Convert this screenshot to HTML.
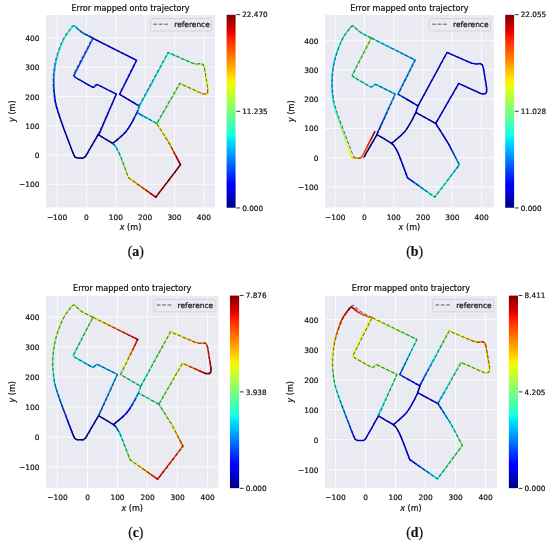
<!DOCTYPE html>
<html><head><meta charset="utf-8"><title>Error mapped onto trajectory</title>
<style>html,body{margin:0;padding:0;background:#fff}svg{display:block;filter:blur(0.35px)}</style></head>
<body>
<svg width="550" height="545" viewBox="0 0 550 545" font-family="'DejaVu Sans','Liberation Sans',sans-serif" fill="#111111" stroke-width="1.5">
<style>text{stroke:#111111;stroke-width:0.24px;stroke-opacity:0.85}</style>
<defs><linearGradient id="jetgrad" x1="0" y1="0" x2="0" y2="1"><stop offset="0%" stop-color="#800000"/><stop offset="2.5%" stop-color="#9c0000"/><stop offset="5%" stop-color="#b90000"/><stop offset="7.5%" stop-color="#d60000"/><stop offset="10%" stop-color="#f30900"/><stop offset="12.5%" stop-color="#ff2100"/><stop offset="15%" stop-color="#ff3900"/><stop offset="17.5%" stop-color="#ff5000"/><stop offset="20%" stop-color="#ff6800"/><stop offset="22.5%" stop-color="#ff8000"/><stop offset="25%" stop-color="#ff9700"/><stop offset="27.5%" stop-color="#ffaf00"/><stop offset="30%" stop-color="#ffc600"/><stop offset="32.5%" stop-color="#ffde00"/><stop offset="35%" stop-color="#f7f600"/><stop offset="37.5%" stop-color="#e2ff15"/><stop offset="40%" stop-color="#ceff29"/><stop offset="42.5%" stop-color="#b9ff3e"/><stop offset="45%" stop-color="#a5ff52"/><stop offset="47.5%" stop-color="#90ff67"/><stop offset="50%" stop-color="#7bff7b"/><stop offset="52.5%" stop-color="#67ff90"/><stop offset="55%" stop-color="#52ffa5"/><stop offset="57.5%" stop-color="#3effb9"/><stop offset="60%" stop-color="#29ffce"/><stop offset="62.5%" stop-color="#15ffe2"/><stop offset="65%" stop-color="#00e5f7"/><stop offset="67.5%" stop-color="#00ccff"/><stop offset="70%" stop-color="#00b3ff"/><stop offset="72.5%" stop-color="#0099ff"/><stop offset="75%" stop-color="#0080ff"/><stop offset="77.5%" stop-color="#0066ff"/><stop offset="80%" stop-color="#004cff"/><stop offset="82.5%" stop-color="#0033ff"/><stop offset="85%" stop-color="#001aff"/><stop offset="87.5%" stop-color="#0000ff"/><stop offset="90%" stop-color="#0000f3"/><stop offset="92.5%" stop-color="#0000d6"/><stop offset="95%" stop-color="#0000b9"/><stop offset="97.5%" stop-color="#00009c"/><stop offset="100%" stop-color="#000080"/></linearGradient></defs>
<rect width="550" height="545" fill="#fff"/>
<g id="plot-a">
<rect x="46" y="15" width="169.05" height="192.4" fill="#eaeaf2"/>
<path d="M57.1 15V207.4M86.45 15V207.4M115.8 15V207.4M145.15 15V207.4M174.5 15V207.4M203.85 15V207.4M46 184.29H215.05M46 155.05H215.05M46 125.81H215.05M46 96.57H215.05M46 67.33H215.05M46 38.09H215.05" stroke="#fff" stroke-width="0.8" fill="none"/>
<text x="57.1" y="220" text-anchor="middle" font-size="7.45">−100</text>
<text x="86.45" y="220" text-anchor="middle" font-size="7.45">0</text>
<text x="115.8" y="220" text-anchor="middle" font-size="7.45">100</text>
<text x="145.15" y="220" text-anchor="middle" font-size="7.45">200</text>
<text x="174.5" y="220" text-anchor="middle" font-size="7.45">300</text>
<text x="203.85" y="220" text-anchor="middle" font-size="7.45">400</text>
<text x="39.5" y="187.29" text-anchor="end" font-size="7.45">−100</text>
<text x="39.5" y="158.05" text-anchor="end" font-size="7.45">0</text>
<text x="39.5" y="128.81" text-anchor="end" font-size="7.45">100</text>
<text x="39.5" y="99.57" text-anchor="end" font-size="7.45">200</text>
<text x="39.5" y="70.33" text-anchor="end" font-size="7.45">300</text>
<text x="39.5" y="41.09" text-anchor="end" font-size="7.45">400</text>
<text x="130.53" y="230.1" text-anchor="middle" font-size="8.1"><tspan font-style="italic">x</tspan> (m)</text>
<text transform="translate(14.5 111.2) rotate(-90)" text-anchor="middle" font-size="8.1"><tspan font-style="italic">y</tspan> (m)</text>
<text x="130.53" y="10.5" text-anchor="middle" font-size="8.1">Error mapped onto trajectory</text>
<clipPath id="clip-a"><rect x="46" y="15" width="169.05" height="192.4"/></clipPath>
<g clip-path="url(#clip-a)" fill="none" stroke-linecap="round" stroke-linejoin="round">
<path d="M93 38.05L92.24 37.68" stroke="#0020ff"/>
<path d="M92.24 37.68L91.49 37.3" stroke="#0030ff"/>
<path d="M91.49 37.3L90.4 36.77L89.31 36.24" stroke="#0040ff"/>
<path d="M89.31 36.24L88.07 35.62L86.83 35.01" stroke="#0050ff"/>
<path d="M86.83 35.01L85.62 34.37L84.41 33.73" stroke="#0060ff"/>
<path d="M84.41 33.73L83.4 33.14L82.4 32.55" stroke="#0070ff"/>
<path d="M82.4 32.55L81.61 31.97L80.81 31.4" stroke="#0080ff"/>
<path d="M80.81 31.4L80.11 30.8L79.41 30.19" stroke="#008fff"/>
<path d="M79.41 30.19L78.79 29.6" stroke="#009fff"/>
<path d="M78.79 29.6L78.17 29.02L77.11 27.97" stroke="#00afff"/>
<path d="M77.11 27.97L76.2 27.15L75.48 26.59" stroke="#00cfff"/>
<path d="M75.48 26.59L74.96 26.23L74.59 26.02L74.32 25.88" stroke="#00dffc"/>
<path d="M74.32 25.88L74.1 25.75L73.3 26.35" stroke="#08efef"/>
<path d="M73.3 26.35L72.5 26.95L71.91 27.72L71.32 28.5L70.48 29.56L69.64 30.62L68.99 31.48L68.34 32.33L67.69 33.18L67.04 34.14L66.39 35.09L65.73 36.04L65.16 37.04L64.58 38.05L64 39.05L63.49 40.14L62.97 41.22" stroke="#15ffe2"/>
<path d="M62.97 41.22L62.46 42.31L61.95 43.51L61.45 44.72L60.94 45.92L60.46 47.19L59.99 48.46L59.51 49.73L59.08 51.01L58.64 52.3L58.21 53.58L57.84 54.84L57.47 56.09" stroke="#08efef"/>
<path d="M57.47 56.09L57.1 57.35L56.79 58.58L56.49 59.8" stroke="#00dffc"/>
<path d="M56.49 59.8L56.18 61.03L55.92 62.25L55.67 63.48" stroke="#00cfff"/>
<path d="M55.67 63.48L55.41 64.71L55.21 65.94L55 67.16" stroke="#00bfff"/>
<path d="M55 67.16L54.8 68.39L54.64 69.62" stroke="#00afff"/>
<path d="M54.64 69.62L54.49 70.85L54.33 72.07L54.22 73.3" stroke="#009fff"/>
<path d="M54.22 73.3L54.11 74.52L54 75.75" stroke="#008fff"/>
<path d="M54 75.75L53.94 76.97L53.88 78.2L53.81 79.42" stroke="#0080ff"/>
<path d="M53.81 79.42L53.8 80.64L53.79 81.86" stroke="#0070ff"/>
<path d="M53.79 81.86L53.77 83.09L53.81 84.31" stroke="#0060ff"/>
<path d="M53.81 84.31L53.84 85.53L53.88 86.75L53.95 87.97" stroke="#0050ff"/>
<path d="M53.95 87.97L54.03 89.19L54.11 90.4" stroke="#0040ff"/>
<path d="M54.11 90.4L54.22 91.61L54.33 92.82" stroke="#0030ff"/>
<path d="M54.33 92.82L54.43 94.04L54.54 95.12L54.66 96.2" stroke="#0020ff"/>
<path d="M54.66 96.2L54.77 97.28L54.95 98.71L55.13 100.14" stroke="#0010ff"/>
<path d="M55.13 100.14L55.31 101.16L55.5 102.17L55.68 103.19" stroke="#0000ff"/>
<path d="M55.68 103.19L55.99 104.45L56.31 105.71L56.62 106.97L56.99 108.25" stroke="#0000fe"/>
<path d="M56.99 108.25L57.37 109.52L57.74 110.79L58.11 112.07L58.53 113.31L58.94 114.55" stroke="#0000ec"/>
<path d="M58.94 114.55L59.35 115.79L59.76 117.03L60.17 118.27L60.58 119.51L61.05 120.85L61.53 122.19L62 123.54L62.48 124.88" stroke="#0000da"/>
<path d="M62.48 124.88L62.95 126.22L63.42 127.57L63.9 128.91L64.36 130.14L64.82 131.37L65.29 132.61L65.75 133.84L66.21 135.07L66.68 136.3L67.14 137.53L67.6 138.76" stroke="#0000c8"/>
<path d="M67.6 138.76L68.08 140.01L68.55 141.26L69.03 142.5L69.5 143.75L69.97 144.99L70.45 146.24L70.92 147.48L71.38 148.69" stroke="#0000b6"/>
<path d="M71.38 148.69L71.83 149.89L72.29 151.09L72.74 152.3L73.2 153.5L73.73 154.6L74.27 155.7" stroke="#0000a4"/>
<path d="M74.27 155.7L74.8 156.8L75.9 157.4L77 158L78.2 158.04L79.4 158.08L80.6 158.12L81.8 158.16L83 158.2L84.1 157.35L85.2 156.5" stroke="#000092"/>
<path d="M85.4 156.65L86.15 155.36L86.91 154.06L87.66 152.77" stroke="#000092"/>
<path d="M87.66 152.77L88.41 151.47L89.16 150.18L89.92 148.89L90.67 147.59L91.42 146.3L92.18 145L92.93 143.71L93.68 142.41L94.44 141.12L95.19 139.83L95.94 138.53L96.69 137.24L97.45 135.94" stroke="#0000a4"/>
<path d="M97.45 135.94L98.2 134.65" stroke="#0000b6"/>
<path d="M112.8 143.45L111.58 142.72" stroke="#0000b6"/>
<path d="M111.58 142.72L110.37 141.98L109.15 141.25L107.93 140.52L106.72 139.78L105.5 139.05L104.28 138.32L103.07 137.58L101.85 136.85L100.63 136.12L99.42 135.38L98.2 134.65" stroke="#0000a4"/>
<path d="M137 112.55L136.55 113.46" stroke="#0050ff"/>
<path d="M136.55 113.46L135.92 114.75L135.55 115.5" stroke="#0040ff"/>
<path d="M135.55 115.5L135.18 116.24L134.8 117.01L134.41 117.77L134.06 118.46" stroke="#0030ff"/>
<path d="M134.06 118.46L133.7 119.15L133.03 120.4" stroke="#0020ff"/>
<path d="M133.03 120.4L132.35 121.65L131.67 122.85" stroke="#0010ff"/>
<path d="M131.67 122.85L131.02 124L130.4 125.05L129.84 125.99" stroke="#0000ff"/>
<path d="M129.84 125.99L129.34 126.82L128.85 127.6L128.35 128.37L127.8 129.15" stroke="#0000fe"/>
<path d="M127.8 129.15L127.24 129.93L126.69 130.69L126.1 131.45L125.42 132.26" stroke="#0000ec"/>
<path d="M125.42 132.26L124.6 133.15L123.59 134.15L123.01 134.69L122.43 135.23L121.81 135.8" stroke="#0000da"/>
<path d="M121.81 135.8L121.19 136.36L120.56 136.92L119.92 137.48L119.31 138.01L118.7 138.55L118.06 139.1L117.43 139.64L116.74 140.21" stroke="#0000c8"/>
<path d="M116.74 140.21L116.06 140.78L115.4 141.32L114.74 141.87L113.6 142.79L112.8 143.45" stroke="#0000b6"/>
<path d="M157.15 123.75L155.91 123.06" stroke="#3bffbc"/>
<path d="M155.91 123.06L154.66 122.38" stroke="#2effc9"/>
<path d="M154.66 122.38L153.42 121.69" stroke="#21ffd5"/>
<path d="M153.42 121.69L152.17 121L150.93 120.31" stroke="#15ffe2"/>
<path d="M150.93 120.31L149.69 119.62" stroke="#08efef"/>
<path d="M149.69 119.62L148.44 118.94L147.2 118.25" stroke="#00dffc"/>
<path d="M147.2 118.25L145.96 117.56" stroke="#00cfff"/>
<path d="M145.96 117.56L144.71 116.88L143.47 116.19" stroke="#00bfff"/>
<path d="M143.47 116.19L142.22 115.5" stroke="#00afff"/>
<path d="M142.22 115.5L140.98 114.81L139.74 114.12" stroke="#009fff"/>
<path d="M139.74 114.12L138.49 113.44" stroke="#008fff"/>
<path d="M138.49 113.44L137.25 112.75L137.69 111.43" stroke="#0080ff"/>
<path d="M137.69 111.43L138.13 110.11" stroke="#008fff"/>
<path d="M138.13 110.11L138.57 108.79L139.01 107.47" stroke="#009fff"/>
<path d="M139.01 107.47L139.45 106.15" stroke="#00afff"/>
<path d="M92.75 38.25L94.08 38.92L95.41 39.59L96.74 40.26" stroke="#0000ec"/>
<path d="M96.74 40.26L98.07 40.93L99.4 41.6L100.73 42.27L102.06 42.94L103.39 43.61L104.72 44.28L106.05 44.95L107.38 45.62L108.71 46.29L110.04 46.96L111.37 47.63L112.7 48.3L114.03 48.97L115.37 49.63L116.7 50.3L118.03 50.97L119.36 51.64L120.69 52.31L122.02 52.98L123.35 53.65L124.68 54.32L126.01 54.99L127.34 55.66L128.67 56.33L130 57" stroke="#0000fe"/>
<path d="M130 57L131.33 57.67L132.66 58.34L133.99 59.01L135.32 59.68L136.65 60.35L136 61.66L135.34 62.97L134.69 64.28L134.03 65.6L133.38 66.91L132.73 68.22L132.07 69.53L131.42 70.84L130.77 72.15L130.11 73.47L129.46 74.78L128.8 76.09L128.15 77.4L127.5 78.71L126.84 80.02L126.19 81.33L125.53 82.65" stroke="#0000ff"/>
<path d="M125.53 82.65L124.88 83.96L124.23 85.27L123.57 86.58L122.92 87.89L122.27 89.2L121.61 90.52L120.96 91.83L120.3 93.14L119.65 94.45L120.91 95.19" stroke="#0010ff"/>
<path d="M120.91 95.19L122.17 95.94L123.43 96.68" stroke="#0000ff"/>
<path d="M123.43 96.68L124.69 97.43L125.95 98.17" stroke="#0000fe"/>
<path d="M125.95 98.17L127.21 98.92L128.47 99.66" stroke="#0000ec"/>
<path d="M128.47 99.66L129.73 100.41L130.99 101.15L132.25 101.9" stroke="#0000da"/>
<path d="M132.25 101.9L133.51 102.64" stroke="#0000c8"/>
<path d="M133.51 102.64L134.7 103.34" stroke="#0000da"/>
<path d="M134.7 103.34L135.89 104.04" stroke="#0000fe"/>
<path d="M135.89 104.04L137.07 104.75" stroke="#0010ff"/>
<path d="M137.07 104.75L138.26 105.45" stroke="#0030ff"/>
<path d="M138.26 105.45L139.45 106.15" stroke="#0050ff"/>
<path d="M98.8 134.85L99.38 133.49L99.97 132.13L100.55 130.78L101.13 129.42" stroke="#0000da"/>
<path d="M101.13 129.42L101.72 128.06L102.3 126.7L102.88 125.34L103.47 123.98L104.05 122.62L104.63 121.27L105.22 119.91L105.8 118.55L106.38 117.19" stroke="#0000ec"/>
<path d="M106.38 117.19L106.97 115.83L107.55 114.47L108.13 113.12L108.72 111.76L109.3 110.4L109.88 109.04L110.47 107.68L111.05 106.32L111.63 104.97" stroke="#0000fe"/>
<path d="M111.63 104.97L112.22 103.61L112.8 102.25L113.38 100.89L113.97 99.53L114.55 98.17L115.13 96.82L115.72 95.46L116.3 94.1L114.96 93.42L113.63 92.75L112.29 92.07L110.96 91.4" stroke="#0000ff"/>
<path d="M110.96 91.4L109.62 90.72L108.29 90.05L106.95 89.38L105.61 88.7L104.28 88.02L102.94 87.35L101.61 86.67L100.27 86L98.94 85.32L97.6 84.65L96.7 85L95.8 85.35L94.9 86.25L94 87.15L93.15 87.15L92.3 87.15L91.06 86.44L89.83 85.72L88.59 85.01L87.36 84.29L86.12 83.58L84.89 82.86" stroke="#0010ff"/>
<path d="M84.89 82.86L83.65 82.15L82.41 81.44L81.18 80.72L79.94 80.01L78.71 79.29L77.47 78.58L76.24 77.86L75 77.15L74.55 76.35" stroke="#0020ff"/>
<path d="M74.55 76.35L74.1 75.55L74.6 74.15" stroke="#0030ff"/>
<path d="M74.6 74.15L75.29 72.82L75.97 71.49L76.66 70.16L77.34 68.83L78.03 67.5L78.71 66.17L79.4 64.84L80.08 63.51L80.77 62.18L81.45 60.85" stroke="#0040ff"/>
<path d="M81.45 60.85L82.14 59.52L82.82 58.19L83.51 56.86L84.19 55.54L84.88 54.21L85.56 52.88L86.25 51.55L86.93 50.22L87.62 48.89L88.3 47.56L88.99 46.23" stroke="#0050ff"/>
<path d="M88.99 46.23L89.67 44.9L90.36 43.57L91.04 42.24L91.73 40.91L92.41 39.58L93.1 38.25" stroke="#0060ff"/>
<path d="M139.45 106.15L140.16 104.85L140.86 103.55L141.57 102.24L142.28 100.94L142.99 99.64" stroke="#00cfff"/>
<path d="M142.99 99.64L143.69 98.34L144.4 97.03L145.11 95.73L145.82 94.43L146.52 93.13L147.23 91.82L147.94 90.52L148.65 89.22L149.35 87.92L150.06 86.61L150.77 85.31L151.47 84.01L152.18 82.71" stroke="#00dffc"/>
<path d="M152.18 82.71L152.89 81.4L153.6 80.1L154.3 78.8L155.01 77.5L155.72 76.19L156.43 74.89L157.13 73.59L157.84 72.29L158.55 70.98L159.25 69.68L159.96 68.38L160.67 67.08" stroke="#08efef"/>
<path d="M160.67 67.08L161.38 65.77L162.08 64.47L162.79 63.17L163.5 61.87L164.21 60.56L164.91 59.26L165.62 57.96L166.33 56.66L167.04 55.35L167.74 54.05L168.45 52.75" stroke="#15ffe2"/>
<path d="M168.45 52.75L169.81 53.34L171.17 53.94L172.53 54.53" stroke="#21ffd5"/>
<path d="M172.53 54.53L173.89 55.13L175.26 55.72" stroke="#2effc9"/>
<path d="M175.26 55.72L176.62 56.32L177.98 56.91" stroke="#3bffbc"/>
<path d="M177.98 56.91L179.34 57.51L180.7 58.1L182.06 58.69" stroke="#48ffaf"/>
<path d="M182.06 58.69L183.42 59.29L184.78 59.88" stroke="#55ffa2"/>
<path d="M184.78 59.88L186.14 60.48L187.51 61.07" stroke="#62ff95"/>
<path d="M187.51 61.07L188.87 61.67L190.23 62.26L191.59 62.86" stroke="#6fff88"/>
<path d="M191.59 62.86L192.95 63.45L194.07 63.67" stroke="#7bff7b"/>
<path d="M194.07 63.67L195.2 63.9L196.32 64.12" stroke="#88ff6f"/>
<path d="M196.32 64.12L197.45 64.35L198.85 64.18" stroke="#95ff62"/>
<path d="M198.85 64.18L200.25 64.02" stroke="#a2ff55"/>
<path d="M200.25 64.02L201.65 63.85L202.7 64.5" stroke="#afff48"/>
<path d="M202.7 64.5L203.75 65.15L204.12 66.28" stroke="#bcff3b"/>
<path d="M204.12 66.28L204.48 67.42L204.85 68.55" stroke="#c9ff2e"/>
<path d="M204.85 68.55L205.09 69.99L205.32 71.44L205.56 72.88L205.79 74.32" stroke="#d5ff21"/>
<path d="M205.79 74.32L206.03 75.76L206.26 77.21L206.5 78.65L206.74 80.09" stroke="#e2ff15"/>
<path d="M206.74 80.09L206.97 81.54L207.21 82.98L207.44 84.42" stroke="#effe08"/>
<path d="M207.44 84.42L207.68 85.86L207.91 87.31L208.15 88.75" stroke="#fcf000"/>
<path d="M208.15 88.75L208.08 89.95" stroke="#ffe100"/>
<path d="M208.08 89.95L208.02 91.15L207.95 92.35" stroke="#ffd200"/>
<path d="M207.95 92.35L207.3 93.25" stroke="#ffc300"/>
<path d="M207.3 93.25L206.65 94.15L205.45 94.15" stroke="#ffb500"/>
<path d="M205.45 94.15L204.25 94.15L203.05 94.15L201.7 93.54" stroke="#ffc300"/>
<path d="M201.7 93.54L200.36 92.93" stroke="#ffd200"/>
<path d="M200.36 92.93L199.01 92.31L197.66 91.7" stroke="#ffe100"/>
<path d="M197.66 91.7L196.31 91.09L194.97 90.48" stroke="#fcf000"/>
<path d="M194.97 90.48L193.62 89.87L192.27 89.26" stroke="#effe08"/>
<path d="M192.27 89.26L190.93 88.64" stroke="#e2ff15"/>
<path d="M190.93 88.64L189.58 88.03L188.23 87.42" stroke="#d5ff21"/>
<path d="M188.23 87.42L186.89 86.81L185.54 86.2" stroke="#c9ff2e"/>
<path d="M185.54 86.2L184.19 85.59L182.84 84.97" stroke="#bcff3b"/>
<path d="M182.84 84.97L181.5 84.36" stroke="#afff48"/>
<path d="M181.5 84.36L180.15 83.75L179.41 85.04L178.67 86.33L177.92 87.62" stroke="#a2ff55"/>
<path d="M177.92 87.62L177.18 88.91L176.44 90.2L175.7 91.49L174.96 92.78L174.21 94.07" stroke="#95ff62"/>
<path d="M174.21 94.07L173.47 95.36L172.73 96.65L171.99 97.94L171.25 99.23L170.5 100.52" stroke="#88ff6f"/>
<path d="M170.5 100.52L169.76 101.81L169.02 103.1L168.28 104.4L167.54 105.69L166.8 106.98" stroke="#7bff7b"/>
<path d="M166.8 106.98L166.05 108.27L165.31 109.56L164.57 110.85L163.83 112.14L163.09 113.43" stroke="#6fff88"/>
<path d="M163.09 113.43L162.34 114.72L161.6 116.01L160.86 117.3L160.12 118.59L159.38 119.88" stroke="#62ff95"/>
<path d="M159.38 119.88L158.63 121.17L157.89 122.46L157.15 123.75" stroke="#55ffa2"/>
<path d="M112.8 143.45L113.17 143.79" stroke="#008fff"/>
<path d="M113.17 143.79L113.66 144.21" stroke="#009fff"/>
<path d="M113.66 144.21L114.27 144.78" stroke="#00afff"/>
<path d="M114.27 144.78L114.96 145.57" stroke="#00bfff"/>
<path d="M114.96 145.57L115.7 146.65" stroke="#00cfff"/>
<path d="M115.7 146.65L116.47 147.9" stroke="#00dffc"/>
<path d="M116.47 147.9L116.87 148.59" stroke="#08efef"/>
<path d="M116.87 148.59L117.28 149.28" stroke="#15ffe2"/>
<path d="M117.28 149.28L117.73 150.12L118.17 150.96" stroke="#21ffd5"/>
<path d="M118.17 150.96L118.69 152.03" stroke="#2effc9"/>
<path d="M118.69 152.03L119.2 153.09" stroke="#3bffbc"/>
<path d="M119.2 153.09L119.6 154.01L120 154.93" stroke="#48ffaf"/>
<path d="M120 154.93L120.4 155.85L120.92 157.16" stroke="#55ffa2"/>
<path d="M120.92 157.16L121.44 158.47" stroke="#62ff95"/>
<path d="M121.44 158.47L121.96 159.78L122.44 161.03" stroke="#6fff88"/>
<path d="M122.44 161.03L122.91 162.28" stroke="#7bff7b"/>
<path d="M122.91 162.28L123.39 163.53L123.86 164.78" stroke="#88ff6f"/>
<path d="M123.86 164.78L124.35 166.09L124.83 167.4" stroke="#95ff62"/>
<path d="M124.83 167.4L125.32 168.71L125.8 170.02" stroke="#a2ff55"/>
<path d="M125.8 170.02L126.23 171.18" stroke="#afff48"/>
<path d="M126.23 171.18L126.66 172.34L127.09 173.49" stroke="#bcff3b"/>
<path d="M127.09 173.49L127.51 174.65L127.91 175.72" stroke="#c9ff2e"/>
<path d="M127.91 175.72L128.3 176.78" stroke="#d5ff21"/>
<path d="M128.3 176.78L128.7 177.85" stroke="#e2ff15"/>
<path d="M128.7 177.85L129.88 178.69" stroke="#effe08"/>
<path d="M129.88 178.69L131.06 179.53" stroke="#fcf000"/>
<path d="M131.06 179.53L132.24 180.37L133.42 181.22" stroke="#ffe100"/>
<path d="M133.42 181.22L134.6 182.06" stroke="#ffd200"/>
<path d="M134.6 182.06L135.78 182.9" stroke="#ffc300"/>
<path d="M135.78 182.9L136.96 183.74" stroke="#ffb500"/>
<path d="M136.96 183.74L138.14 184.58" stroke="#ffa600"/>
<path d="M138.14 184.58L139.32 185.42" stroke="#ff9700"/>
<path d="M139.32 185.42L140.5 186.26" stroke="#ff8800"/>
<path d="M140.5 186.26L141.68 187.1" stroke="#ff7a00"/>
<path d="M141.68 187.1L142.87 187.95L144.05 188.79" stroke="#ff6b00"/>
<path d="M144.05 188.79L145.23 189.63" stroke="#ff5c00"/>
<path d="M145.23 189.63L146.41 190.47" stroke="#ff4d00"/>
<path d="M146.41 190.47L147.59 191.31" stroke="#ff3f00"/>
<path d="M147.59 191.31L148.77 192.15" stroke="#ff3000"/>
<path d="M148.77 192.15L149.95 192.99" stroke="#ff2100"/>
<path d="M149.95 192.99L151.13 193.83" stroke="#fe1200"/>
<path d="M151.13 193.83L152.31 194.68" stroke="#ec0400"/>
<path d="M152.31 194.68L153.49 195.52L154.67 196.36" stroke="#da0000"/>
<path d="M154.67 196.36L155.85 197.2" stroke="#c80000"/>
<path d="M155.85 197.2L156.73 196.04L157.61 194.89L158.49 193.73L159.37 192.58L160.25 191.42L161.13 190.27" stroke="#b60000"/>
<path d="M161.13 190.27L162.01 189.11L162.89 187.96L163.77 186.8L164.65 185.65L165.53 184.49L166.41 183.34L167.29 182.18L168.18 181.03L169.06 179.87" stroke="#a40000"/>
<path d="M169.06 179.87L169.94 178.71L170.82 177.56L171.7 176.4L172.58 175.25L173.46 174.09L174.34 172.94L175.22 171.78L176.1 170.63L176.98 169.47" stroke="#920000"/>
<path d="M176.98 169.47L177.86 168.32L178.74 167.16L179.62 166.01L180.5 164.85" stroke="#800000"/>
<path d="M180.5 164.85L179.82 163.54" stroke="#920000"/>
<path d="M179.82 163.54L179.15 162.24" stroke="#a40000"/>
<path d="M179.15 162.24L178.47 160.93" stroke="#b60000"/>
<path d="M178.47 160.93L177.8 159.62" stroke="#c80000"/>
<path d="M177.8 159.62L177.12 158.32" stroke="#da0000"/>
<path d="M177.12 158.32L176.45 157.01" stroke="#ec0400"/>
<path d="M176.45 157.01L175.78 155.71" stroke="#fe1200"/>
<path d="M175.78 155.71L175.1 154.4" stroke="#ff2100"/>
<path d="M175.1 154.4L174.42 153.09" stroke="#ff3f00"/>
<path d="M174.42 153.09L173.75 151.79" stroke="#ff4d00"/>
<path d="M173.75 151.79L173.07 150.48" stroke="#ff5c00"/>
<path d="M173.07 150.48L172.4 149.18" stroke="#ff6b00"/>
<path d="M172.4 149.18L171.72 147.87" stroke="#ff7a00"/>
<path d="M171.72 147.87L171.05 146.56" stroke="#ff8800"/>
<path d="M171.05 146.56L170.38 145.26" stroke="#ff9700"/>
<path d="M170.38 145.26L169.7 143.95" stroke="#ffa600"/>
<path d="M169.7 143.95L168.95 142.75" stroke="#ffb500"/>
<path d="M168.95 142.75L168.19 141.55L167.44 140.35" stroke="#ffc300"/>
<path d="M167.44 140.35L166.69 139.15L165.94 137.95L165.18 136.75" stroke="#ffd200"/>
<path d="M165.18 136.75L164.43 135.55L163.68 134.35" stroke="#ffe100"/>
<path d="M163.68 134.35L162.92 133.15L162.17 131.95" stroke="#fcf000"/>
<path d="M162.17 131.95L161.42 130.75L160.66 129.55" stroke="#effe08"/>
<path d="M160.66 129.55L159.91 128.35L159.16 127.15L158.41 125.95" stroke="#e2ff15"/>
<path d="M158.41 125.95L157.65 124.75L156.9 123.55" stroke="#d5ff21"/>
<path d="M92.3 37.9L90.79 37.15L88.61 36.09L86.13 34.86L83.71 33.58L81.7 32.4L80.11 31.25L78.71 30.04L77.47 28.87L76.41 27.82L75.5 27L74.78 26.44L74.26 26.08L73.89 25.87L73.62 25.73L73.4 25.6L71.8 26.8L70.62 28.35L68.94 30.47L66.99 33.03L65.03 35.89L63.3 38.9L61.76 42.16L60.24 45.77L58.81 49.58L57.51 53.43L56.4 57.2L55.48 60.88L54.71 64.56L54.1 68.24L53.63 71.92L53.3 75.6L53.11 79.27L53.07 82.94L53.18 86.6L53.42 90.25L53.8 93.9L54.19 97.16L54.6 100.03L55.21 103.08L56.21 106.89L57.8 112L60.4 119.47L63.88 128.91L67.6 138.76L70.92 147.48L73.2 153.5L74.8 156.8L77 158L83 158.2L85.2 156.5M85.2 156.5L98 134.5M112.6 143.3L98 134.5M136.8 112.4L136.35 113.31L135.72 114.6L134.98 116.09L134.21 117.62L133.5 119L132.83 120.25L132.15 121.5L131.47 122.7L130.82 123.85L130.2 124.9L129.64 125.84L129.14 126.67L128.65 127.45L128.15 128.22L127.6 129L127.04 129.78L126.49 130.54L125.9 131.3L125.22 132.11L124.4 133L123.39 134L122.23 135.08L120.99 136.21L119.72 137.33L118.5 138.4L117.23 139.49L115.86 140.63L114.54 141.72L113.4 142.64L112.6 143.3M156.7 123.4L136.8 112.4L139 105.8M92.3 37.9L136.2 60L119.2 94.1L133.06 102.29L139 105.8M98 134.5L116.3 94.1L96.8 84.3L95 85L93.2 86.8L91.5 86.8L74.2 76.8L73.3 75.2L73.8 73.8L92.3 37.9M139 105.8L168 52.4L192.5 63.1L197 64L201.2 63.5L203.3 64.8L204.4 68.2L207.7 88.4L207.5 92L206.2 93.8L202.6 93.8L179.7 83.4L156.7 123.4M112.6 143.3L112.97 143.64L113.46 144.06L114.07 144.63L114.76 145.42L115.5 146.5L116.27 147.75L117.08 149.13L117.97 150.81L119 152.94L120.2 155.7L121.76 159.63L123.66 164.63L125.6 169.87L127.31 174.5L128.5 177.7L155.65 197.05L180.3 164.7L169.5 143.8L156.7 123.4" stroke="#000" stroke-opacity="0.52" stroke-width="1.1" stroke-dasharray="3.75 1.62" stroke-linecap="butt"/>
</g>
<rect x="150.55" y="18.6" width="61.2" height="12.4" rx="1.7" fill="#eaeaf2" fill-opacity="0.8" stroke="#cccccc" stroke-width="0.7"/>
<path d="M153.45 24.2h14.85" stroke="#000" stroke-opacity="0.62" stroke-width="1.0" stroke-dasharray="3.75 1.62" fill="none"/>
<text x="174.25" y="26.7" font-size="7.45">reference</text>
<rect x="226.6" y="14.8" width="9" height="192.95" fill="url(#jetgrad)"/>
<path d="M236.3 14.65h3.8" stroke="#111111" stroke-width="0.85"/>
<text x="242.2" y="17.45" font-size="7.3">22.470</text>
<path d="M236.3 111.3h3.8" stroke="#111111" stroke-width="0.85"/>
<text x="242.2" y="114.1" font-size="7.3">11.235</text>
<path d="M236.3 207.95h3.8" stroke="#111111" stroke-width="0.85"/>
<text x="242.2" y="210.75" font-size="7.3">0.000</text>
<text x="135.8" y="256.4" text-anchor="middle" font-family="'Liberation Serif','DejaVu Serif',serif" font-size="13.8" fill="#111">(<tspan font-weight="bold">a</tspan>)</text>
</g>
<g id="plot-b">
<rect x="325" y="15" width="168.8" height="192.4" fill="#eaeaf2"/>
<path d="M335.16 15V207.4M364.45 15V207.4M393.74 15V207.4M423.03 15V207.4M452.32 15V207.4M481.61 15V207.4M325 186.96H493.8M325 157.7H493.8M325 128.44H493.8M325 99.18H493.8M325 69.92H493.8M325 40.66H493.8" stroke="#fff" stroke-width="0.8" fill="none"/>
<text x="335.16" y="220" text-anchor="middle" font-size="7.45">−100</text>
<text x="364.45" y="220" text-anchor="middle" font-size="7.45">0</text>
<text x="393.74" y="220" text-anchor="middle" font-size="7.45">100</text>
<text x="423.03" y="220" text-anchor="middle" font-size="7.45">200</text>
<text x="452.32" y="220" text-anchor="middle" font-size="7.45">300</text>
<text x="481.61" y="220" text-anchor="middle" font-size="7.45">400</text>
<text x="318.5" y="189.96" text-anchor="end" font-size="7.45">−100</text>
<text x="318.5" y="160.7" text-anchor="end" font-size="7.45">0</text>
<text x="318.5" y="131.44" text-anchor="end" font-size="7.45">100</text>
<text x="318.5" y="102.18" text-anchor="end" font-size="7.45">200</text>
<text x="318.5" y="72.92" text-anchor="end" font-size="7.45">300</text>
<text x="318.5" y="43.66" text-anchor="end" font-size="7.45">400</text>
<text x="409.4" y="230.1" text-anchor="middle" font-size="8.1"><tspan font-style="italic">x</tspan> (m)</text>
<text transform="translate(293.5 111.2) rotate(-90)" text-anchor="middle" font-size="8.1"><tspan font-style="italic">y</tspan> (m)</text>
<text x="409.4" y="10.5" text-anchor="middle" font-size="8.1">Error mapped onto trajectory</text>
<clipPath id="clip-b"><rect x="325" y="15" width="168.8" height="192.4"/></clipPath>
<g clip-path="url(#clip-b)" fill="none" stroke-linecap="round" stroke-linejoin="round">
<path d="M371.2 38.05L370.44 37.68" stroke="#15ffe2"/>
<path d="M370.44 37.68L369.69 37.3L368.6 36.77L367.51 36.24L366.27 35.62" stroke="#21ffd5"/>
<path d="M366.27 35.62L365.03 35.01L363.82 34.37L362.61 33.73L361.6 33.14" stroke="#2effc9"/>
<path d="M361.6 33.14L360.6 32.55L359.81 31.97L359.01 31.4L358.31 30.8" stroke="#3bffbc"/>
<path d="M358.31 30.8L357.61 30.19L356.99 29.6L356.37 29.02L355.31 27.97" stroke="#48ffaf"/>
<path d="M355.31 27.97L354.4 27.15L353.68 26.59L353.16 26.23L352.79 26.02L352.52 25.88L352.3 25.75" stroke="#55ffa2"/>
<path d="M352.3 25.75L351.5 26.35L350.7 26.95" stroke="#48ffaf"/>
<path d="M350.7 26.95L350.11 27.72L349.52 28.5L348.68 29.56L347.84 30.62" stroke="#3bffbc"/>
<path d="M347.84 30.62L347.19 31.48L346.54 32.33L345.89 33.18L345.24 34.14L344.59 35.09L343.93 36.04" stroke="#2effc9"/>
<path d="M343.93 36.04L343.36 37.04L342.78 38.05L342.2 39.05L341.69 40.14L341.17 41.22" stroke="#21ffd5"/>
<path d="M341.17 41.22L340.66 42.31L340.15 43.51L339.64 44.72L339.14 45.92L338.66 47.19" stroke="#15ffe2"/>
<path d="M338.66 47.19L338.18 48.46L337.7 49.73L337.26 51.01L336.82 52.3L336.39 53.58" stroke="#08efef"/>
<path d="M336.39 53.58L336.01 54.84L335.64 56.09L335.26 57.35L334.95 58.58L334.63 59.8L334.32 61.03" stroke="#00dffc"/>
<path d="M334.32 61.03L334.06 62.25L333.8 63.48L333.53 64.71L333.32 65.94L333.11 67.16L332.89 68.39L332.73 69.62L332.56 70.85L332.39 72.07L332.27 73.3L332.15 74.52L332.03 75.75L331.96 76.97L331.88 78.2L331.81 79.42L331.78 80.64L331.76 81.86L331.73 83.09L331.75 84.31L331.77 85.53L331.79 86.75L331.85 87.97L331.92 89.19L331.99 90.4L332.1 91.62L332.21 92.83L332.32 94.05L332.43 95.14" stroke="#00cfff"/>
<path d="M332.43 95.14L332.55 96.22L332.66 97.31L332.84 98.74" stroke="#00dffc"/>
<path d="M332.84 98.74L333.03 100.18L333.21 101.2L333.4 102.22" stroke="#08efef"/>
<path d="M333.4 102.22L333.59 103.23L333.9 104.5L334.21 105.77" stroke="#15ffe2"/>
<path d="M334.21 105.77L334.52 107.04L334.9 108.31L335.27 109.59L335.64 110.87L336.02 112.15" stroke="#21ffd5"/>
<path d="M336.02 112.15L336.42 113.39L336.83 114.64" stroke="#2effc9"/>
<path d="M336.83 114.64L337.24 115.88" stroke="#3bffbc"/>
<path d="M337.24 115.88L337.65 117.13L338.06 118.37" stroke="#48ffaf"/>
<path d="M338.06 118.37L338.46 119.62L338.93 120.97" stroke="#55ffa2"/>
<path d="M338.93 120.97L339.4 122.31L339.87 123.66" stroke="#62ff95"/>
<path d="M339.87 123.66L340.33 125.01L340.8 126.36" stroke="#6fff88"/>
<path d="M340.8 126.36L341.27 127.71L341.74 129.06L342.23 130.47" stroke="#7bff7b"/>
<path d="M342.23 130.47L342.73 131.87L343.23 133.28" stroke="#88ff6f"/>
<path d="M343.23 133.28L343.72 134.69L344.22 136.1" stroke="#95ff62"/>
<path d="M344.22 136.1L344.72 137.51L345.21 138.91" stroke="#a2ff55"/>
<path d="M345.21 138.91L345.66 140.16L346.1 141.41" stroke="#afff48"/>
<path d="M346.1 141.41L346.54 142.65L346.98 143.9" stroke="#bcff3b"/>
<path d="M346.98 143.9L347.42 145.14L347.86 146.39" stroke="#c9ff2e"/>
<path d="M347.86 146.39L348.3 147.63L348.7 149.03" stroke="#d5ff21"/>
<path d="M348.7 149.03L349.1 150.42L349.5 151.81L349.9 153.21" stroke="#e2ff15"/>
<path d="M349.9 153.21L350.3 154.6L350.85 155.8" stroke="#effe08"/>
<path d="M350.85 155.8L351.4 157" stroke="#fcf000"/>
<path d="M351.4 157L352.4 157.55" stroke="#ffe100"/>
<path d="M352.4 157.55L353.4 158.1" stroke="#ffd200"/>
<path d="M353.4 158.1L354.88 158.12" stroke="#ffc300"/>
<path d="M354.88 158.12L356.35 158.15" stroke="#ffb500"/>
<path d="M356.35 158.15L357.82 158.17" stroke="#ffa600"/>
<path d="M357.82 158.17L359.3 158.2" stroke="#ff9700"/>
<path d="M359.3 158.2L360.45 157.55" stroke="#ff8800"/>
<path d="M360.45 157.55L361.6 156.9" stroke="#ff7a00"/>
<path d="M361.6 156.9L362.17 156" stroke="#ff6b00"/>
<path d="M362.17 156L362.73 155.1L363.3 154.2" stroke="#ff5c00"/>
<path d="M363.3 154.2L363.98 152.87L364.66 151.54" stroke="#ff4d00"/>
<path d="M364.66 151.54L365.35 150.21L366.03 148.88" stroke="#ff3f00"/>
<path d="M366.03 148.88L366.71 147.55" stroke="#ff3000"/>
<path d="M366.71 147.55L367.39 146.22L368.08 144.89" stroke="#ff2100"/>
<path d="M368.08 144.89L368.76 143.56L369.44 142.24" stroke="#fe1200"/>
<path d="M369.44 142.24L370.12 140.91L370.81 139.58" stroke="#ec0400"/>
<path d="M370.81 139.58L371.49 138.25" stroke="#da0000"/>
<path d="M371.49 138.25L372.17 136.92L372.85 135.59" stroke="#c80000"/>
<path d="M372.85 135.59L373.54 134.26L374.22 132.93" stroke="#b60000"/>
<path d="M374.22 132.93L374.9 131.6" stroke="#a40000"/>
<path d="M364.2 156.55L364.95 155.26L365.71 153.96L366.46 152.67L367.21 151.37L367.96 150.08L368.72 148.79L369.47 147.49L370.22 146.2L370.98 144.9L371.73 143.61L372.48 142.31" stroke="#000092"/>
<path d="M372.48 142.31L373.24 141.02L373.99 139.73L374.74 138.43L375.49 137.14L376.25 135.84L377 134.55" stroke="#0000a4"/>
<path d="M391.6 143.35L390.38 142.62L389.17 141.88L387.95 141.15L386.73 140.42L385.52 139.68L384.3 138.95L383.08 138.22L381.87 137.48L380.65 136.75L379.43 136.02L378.22 135.28L377 134.55" stroke="#0000b6"/>
<path d="M415.8 112.45L415.35 113.36L414.72 114.65L414.35 115.4L413.98 116.14L413.6 116.91L413.21 117.67L412.86 118.36L412.5 119.05L411.83 120.3L411.15 121.55L410.47 122.75L409.82 123.9L409.2 124.95L408.64 125.89L408.14 126.72L407.65 127.5L407.15 128.27L406.6 129.05L406.04 129.83L405.49 130.59L404.9 131.35L404.22 132.16L403.4 133.05L402.39 134.05L401.81 134.59L401.23 135.13L400.61 135.7L399.99 136.26L399.36 136.82L398.72 137.38L398.11 137.91L397.5 138.45L396.86 139L396.23 139.54L395.54 140.11L394.86 140.68L394.2 141.22L393.54 141.77L392.4 142.69L391.6 143.35" stroke="#0000c8"/>
<path d="M435.7 123.45L434.46 122.76L433.21 122.08L431.97 121.39L430.73 120.7L429.48 120.01L428.24 119.33L426.99 118.64L425.75 117.95L424.51 117.26L423.26 116.58L422.02 115.89L420.77 115.2L419.53 114.51L418.29 113.83L417.04 113.14" stroke="#0000da"/>
<path d="M417.04 113.14L415.8 112.45" stroke="#0000c8"/>
<path d="M415.8 112.45L416.24 111.13L416.68 109.81L417.12 108.49L417.56 107.17L418 105.85" stroke="#0000da"/>
<path d="M371.05 37.85L372.38 38.52L373.71 39.19L375.04 39.86L376.37 40.53" stroke="#15ffe2"/>
<path d="M376.37 40.53L377.7 41.2L379.03 41.87L380.36 42.54L381.69 43.21L383.02 43.88" stroke="#08efef"/>
<path d="M383.02 43.88L384.35 44.55L385.68 45.22L387.01 45.89L388.34 46.56L389.67 47.23L391 47.9" stroke="#00dffc"/>
<path d="M391 47.9L392.33 48.57L393.67 49.23L395 49.9L396.33 50.57L397.66 51.24" stroke="#00cfff"/>
<path d="M397.66 51.24L398.99 51.91L400.32 52.58L401.65 53.25L402.98 53.92L404.31 54.59" stroke="#00bfff"/>
<path d="M404.31 54.59L405.64 55.26L406.97 55.93L408.3 56.6L409.63 57.27L410.96 57.94" stroke="#00afff"/>
<path d="M410.96 57.94L412.29 58.61L413.62 59.28L414.95 59.95L414.3 61.26L413.64 62.57L412.99 63.88L412.33 65.2" stroke="#009fff"/>
<path d="M412.33 65.2L411.68 66.51L411.03 67.82L410.37 69.13L409.72 70.44L409.07 71.75L408.41 73.07L407.76 74.38L407.1 75.69L406.45 77L405.8 78.31" stroke="#008fff"/>
<path d="M405.8 78.31L405.14 79.62L404.49 80.93L403.83 82.25L403.18 83.56L402.53 84.87L401.87 86.18L401.22 87.49L400.57 88.8L399.91 90.12L399.26 91.43L398.6 92.74" stroke="#0080ff"/>
<path d="M398.6 92.74L397.95 94.05L399.21 94.79" stroke="#0070ff"/>
<path d="M399.21 94.79L400.47 95.54L401.73 96.28" stroke="#0060ff"/>
<path d="M401.73 96.28L402.99 97.03" stroke="#0050ff"/>
<path d="M402.99 97.03L404.25 97.77L405.51 98.52" stroke="#0040ff"/>
<path d="M405.51 98.52L406.77 99.26" stroke="#0030ff"/>
<path d="M406.77 99.26L408.03 100.01" stroke="#0020ff"/>
<path d="M408.03 100.01L409.29 100.75L410.55 101.5" stroke="#0010ff"/>
<path d="M410.55 101.5L411.81 102.24L413 102.94" stroke="#0000ff"/>
<path d="M413 102.94L414.19 103.64L415.37 104.35L416.56 105.05L417.75 105.75" stroke="#0000fe"/>
<path d="M376.75 134.45L377.36 133.1L377.97 131.76" stroke="#0010ff"/>
<path d="M377.97 131.76L378.58 130.41L379.19 129.06L379.8 127.72" stroke="#0020ff"/>
<path d="M379.8 127.72L380.41 126.37L381.02 125.02" stroke="#0030ff"/>
<path d="M381.02 125.02L381.63 123.68L382.24 122.33L382.85 120.98" stroke="#0040ff"/>
<path d="M382.85 120.98L383.46 119.64L384.07 118.29L384.68 116.94" stroke="#0050ff"/>
<path d="M384.68 116.94L385.29 115.6L385.9 114.25L386.51 112.9" stroke="#0060ff"/>
<path d="M386.51 112.9L387.12 111.56L387.73 110.21L388.34 108.86" stroke="#0070ff"/>
<path d="M388.34 108.86L388.95 107.52L389.56 106.17L390.17 104.82" stroke="#0080ff"/>
<path d="M390.17 104.82L390.78 103.48L391.39 102.13L392 100.78" stroke="#008fff"/>
<path d="M392 100.78L392.61 99.44L393.22 98.09L393.83 96.74" stroke="#009fff"/>
<path d="M393.83 96.74L394.44 95.4L395.05 94.05L393.75 93.4L392.45 92.74" stroke="#00afff"/>
<path d="M392.45 92.74L391.15 92.09L389.85 91.44L388.55 90.78L387.25 90.13L385.95 89.48L384.65 88.82L383.35 88.17L382.05 87.52" stroke="#00bfff"/>
<path d="M382.05 87.52L380.75 86.86L379.45 86.21L378.15 85.56L376.85 84.9L375.55 84.25L374.65 84.6" stroke="#00cfff"/>
<path d="M374.65 84.6L373.75 84.95L372.85 85.85" stroke="#00dffc"/>
<path d="M372.85 85.85L371.95 86.75L371.1 86.75" stroke="#08efef"/>
<path d="M371.1 86.75L370.25 86.75L369.01 86.04L367.78 85.32L366.54 84.61L365.31 83.89" stroke="#15ffe2"/>
<path d="M365.31 83.89L364.07 83.18L362.84 82.46L361.6 81.75L360.36 81.04" stroke="#21ffd5"/>
<path d="M360.36 81.04L359.13 80.32L357.89 79.61L356.66 78.89L355.42 78.18" stroke="#2effc9"/>
<path d="M355.42 78.18L354.19 77.46L352.95 76.75L352.5 75.95" stroke="#3bffbc"/>
<path d="M352.5 75.95L352.05 75.15" stroke="#48ffaf"/>
<path d="M352.05 75.15L352.55 73.75" stroke="#55ffa2"/>
<path d="M352.55 73.75L353.24 72.42L353.92 71.09L354.61 69.76L355.29 68.43" stroke="#62ff95"/>
<path d="M355.29 68.43L355.98 67.1L356.66 65.77L357.35 64.44L358.03 63.11L358.72 61.78" stroke="#6fff88"/>
<path d="M358.72 61.78L359.4 60.45L360.09 59.12L360.77 57.79L361.46 56.46" stroke="#7bff7b"/>
<path d="M361.46 56.46L362.14 55.14L362.83 53.81L363.51 52.48L364.2 51.15" stroke="#88ff6f"/>
<path d="M364.2 51.15L364.88 49.82L365.57 48.49L366.25 47.16L366.94 45.83" stroke="#95ff62"/>
<path d="M366.94 45.83L367.62 44.5L368.31 43.17L368.99 41.84L369.68 40.51L370.36 39.18" stroke="#a2ff55"/>
<path d="M370.36 39.18L371.05 37.85" stroke="#afff48"/>
<path d="M418 105.85L418.71 104.55L419.41 103.25L420.12 101.94L420.83 100.64L421.54 99.34L422.24 98.04L422.95 96.73L423.66 95.43L424.37 94.13L425.07 92.83L425.78 91.52L426.49 90.22L427.2 88.92L427.9 87.62L428.61 86.31" stroke="#0000fe"/>
<path d="M428.61 86.31L429.32 85.01L430.02 83.71L430.73 82.41L431.44 81.1L432.15 79.8L432.85 78.5L433.56 77.2L434.27 75.89L434.98 74.59L435.68 73.29L436.39 71.99L437.1 70.68L437.8 69.38L438.51 68.08L439.22 66.78L439.93 65.47L440.63 64.17L441.34 62.87L442.05 61.57L442.76 60.26L443.46 58.96L444.17 57.66L444.88 56.36L445.59 55.05L446.29 53.75L447 52.45L448.36 53.04L449.72 53.64L451.08 54.23L452.44 54.83L453.81 55.42L455.17 56.02L456.53 56.61L457.89 57.21L459.25 57.8L460.61 58.39L461.97 58.99L463.33 59.58L464.69 60.18L466.06 60.77L467.42 61.37L468.78 61.96L470.14 62.56L471.5 63.15L472.62 63.38L473.75 63.6L474.88 63.82L476 64.05L477.4 63.88L478.8 63.72L480.2 63.55L481.25 64.2L482.3 64.85L482.67 65.98L483.03 67.12L483.4 68.25L483.64 69.69L483.87 71.14L484.11 72.58L484.34 74.02L484.58 75.46L484.81 76.91L485.05 78.35L485.29 79.79L485.52 81.24L485.76 82.68L485.99 84.12L486.23 85.56L486.46 87.01L486.7 88.45L486.63 89.65L486.57 90.85L486.5 92.05L485.85 92.95L485.2 93.85L484 93.85L482.8 93.85L481.6 93.85L480.25 93.24L478.91 92.63L477.56 92.01L476.21 91.4L474.86 90.79L473.52 90.18L472.17 89.57L470.82 88.96L469.48 88.34L468.13 87.73L466.78 87.12L465.44 86.51L464.09 85.9L462.74 85.29L461.39 84.67L460.05 84.06L458.7 83.45L457.96 84.74L457.22 86.03L456.47 87.32L455.73 88.61" stroke="#0000ff"/>
<path d="M455.73 88.61L454.99 89.9L454.25 91.19L453.51 92.48L452.76 93.77L452.02 95.06L451.28 96.35L450.54 97.64L449.8 98.93L449.05 100.22L448.31 101.51L447.57 102.8L446.83 104.1L446.09 105.39L445.35 106.68L444.6 107.97L443.86 109.26L443.12 110.55L442.38 111.84L441.64 113.13L440.89 114.42L440.15 115.71L439.41 117L438.67 118.29L437.93 119.58L437.18 120.87" stroke="#0000fe"/>
<path d="M437.18 120.87L436.44 122.16L435.7 123.45" stroke="#0000ec"/>
<path d="M391.6 143.35L391.97 143.69L392.46 144.11L393.07 144.68L393.76 145.47L394.5 146.55L395.27 147.8L395.67 148.49L396.08 149.18L396.53 150.02" stroke="#0000c8"/>
<path d="M396.53 150.02L396.97 150.86L397.49 151.93L398 152.99L398.4 153.91L398.8 154.83L399.2 155.75L399.72 157.06L400.24 158.37" stroke="#0000da"/>
<path d="M400.24 158.37L400.76 159.68L401.24 160.93L401.71 162.18L402.19 163.43L402.66 164.68L403.15 165.99" stroke="#0000ec"/>
<path d="M403.15 165.99L403.63 167.3L404.12 168.61L404.6 169.92L405.03 171.08L405.46 172.24L405.89 173.39" stroke="#0000fe"/>
<path d="M405.89 173.39L406.31 174.55L406.71 175.62L407.1 176.68L407.5 177.75" stroke="#0000ff"/>
<path d="M407.5 177.75L408.68 178.59" stroke="#0010ff"/>
<path d="M408.68 178.59L409.86 179.43L411.04 180.27" stroke="#0020ff"/>
<path d="M411.04 180.27L412.22 181.12" stroke="#0030ff"/>
<path d="M412.22 181.12L413.4 181.96" stroke="#0040ff"/>
<path d="M413.4 181.96L414.58 182.8" stroke="#0050ff"/>
<path d="M414.58 182.8L415.76 183.64L416.94 184.48" stroke="#0060ff"/>
<path d="M416.94 184.48L418.12 185.32" stroke="#0070ff"/>
<path d="M418.12 185.32L419.3 186.16" stroke="#0080ff"/>
<path d="M419.3 186.16L420.48 187" stroke="#008fff"/>
<path d="M420.48 187L421.67 187.85L422.85 188.69" stroke="#009fff"/>
<path d="M422.85 188.69L424.03 189.53" stroke="#00afff"/>
<path d="M424.03 189.53L425.21 190.37" stroke="#00bfff"/>
<path d="M425.21 190.37L426.39 191.21" stroke="#00cfff"/>
<path d="M426.39 191.21L427.57 192.05L428.75 192.89" stroke="#00dffc"/>
<path d="M428.75 192.89L429.93 193.73" stroke="#08efef"/>
<path d="M429.93 193.73L431.11 194.58" stroke="#15ffe2"/>
<path d="M431.11 194.58L432.29 195.42" stroke="#21ffd5"/>
<path d="M432.29 195.42L433.47 196.26L434.65 197.1" stroke="#2effc9"/>
<path d="M434.65 197.1L435.53 195.94L436.41 194.79" stroke="#3bffbc"/>
<path d="M436.41 194.79L437.29 193.63L438.17 192.48L439.05 191.32L439.93 190.17" stroke="#2effc9"/>
<path d="M439.93 190.17L440.81 189.01L441.69 187.86L442.57 186.7L443.45 185.55" stroke="#21ffd5"/>
<path d="M443.45 185.55L444.33 184.39L445.21 183.24L446.09 182.08L446.98 180.93L447.86 179.77" stroke="#15ffe2"/>
<path d="M447.86 179.77L448.74 178.61L449.62 177.46L450.5 176.3L451.38 175.15" stroke="#08efef"/>
<path d="M451.38 175.15L452.26 173.99L453.14 172.84L454.02 171.68L454.9 170.53L455.78 169.37" stroke="#00dffc"/>
<path d="M455.78 169.37L456.66 168.22L457.54 167.06L458.42 165.91L459.3 164.75" stroke="#00cfff"/>
<path d="M459.3 164.75L458.62 163.44" stroke="#00bfff"/>
<path d="M458.62 163.44L457.95 162.14L457.28 160.83" stroke="#00afff"/>
<path d="M457.28 160.83L456.6 159.53" stroke="#009fff"/>
<path d="M456.6 159.53L455.93 158.22L455.25 156.91" stroke="#008fff"/>
<path d="M455.25 156.91L454.57 155.61" stroke="#0080ff"/>
<path d="M454.57 155.61L453.9 154.3" stroke="#0070ff"/>
<path d="M453.9 154.3L453.23 152.99L452.55 151.69" stroke="#0060ff"/>
<path d="M452.55 151.69L451.88 150.38" stroke="#0050ff"/>
<path d="M451.88 150.38L451.2 149.08" stroke="#0040ff"/>
<path d="M451.2 149.08L450.52 147.77L449.85 146.46" stroke="#0030ff"/>
<path d="M449.85 146.46L449.18 145.16" stroke="#0020ff"/>
<path d="M449.18 145.16L448.5 143.85L447.75 142.65L446.99 141.45" stroke="#0010ff"/>
<path d="M446.99 141.45L446.24 140.25L445.49 139.05L444.74 137.85L443.98 136.65" stroke="#0000ff"/>
<path d="M443.98 136.65L443.23 135.45L442.48 134.25L441.72 133.05L440.97 131.85L440.22 130.65" stroke="#0000fe"/>
<path d="M440.22 130.65L439.46 129.45L438.71 128.25L437.96 127.05L437.21 125.85" stroke="#0000ec"/>
<path d="M437.21 125.85L436.45 124.65L435.7 123.45" stroke="#0000da"/>
<path d="M371.5 38.05L369.99 37.3L367.81 36.24L365.33 35.01L362.91 33.73L360.9 32.55L359.31 31.4L357.91 30.19L356.67 29.02L355.61 27.97L354.7 27.15L353.98 26.59L353.46 26.23L353.09 26.02L352.82 25.88L352.6 25.75L351 26.95L349.82 28.5L348.14 30.62L346.19 33.18L344.23 36.04L342.5 39.05L340.96 42.31L339.44 45.92L338.01 49.73L336.71 53.58L335.6 57.35L334.68 61.03L333.91 64.71L333.3 68.39L332.83 72.07L332.5 75.75L332.31 79.42L332.27 83.09L332.38 86.75L332.62 90.4L333 94.05L333.39 97.31L333.8 100.18L334.41 103.23L335.41 107.04L337 112.15L339.6 119.62L343.08 129.06L346.8 138.91L350.12 147.63L352.4 153.65L354 156.95L356.2 158.15L362.2 158.35L364.4 156.65M364.4 156.65L377.2 134.65M391.8 143.45L377.2 134.65M416 112.55L415.55 113.46L414.92 114.75L414.18 116.24L413.41 117.77L412.7 119.15L412.03 120.4L411.35 121.65L410.67 122.85L410.02 124L409.4 125.05L408.84 125.99L408.34 126.82L407.85 127.6L407.35 128.37L406.8 129.15L406.24 129.93L405.69 130.69L405.1 131.45L404.42 132.26L403.6 133.15L402.59 134.15L401.43 135.23L400.19 136.36L398.92 137.48L397.7 138.55L396.43 139.64L395.06 140.78L393.74 141.87L392.6 142.79L391.8 143.45M435.9 123.55L416 112.55L418.2 105.95M371.5 38.05L415.4 60.15L398.4 94.25L412.26 102.44L418.2 105.95M377.2 134.65L395.5 94.25L376 84.45L374.2 85.15L372.4 86.95L370.7 86.95L353.4 76.95L352.5 75.35L353 73.95L371.5 38.05M418.2 105.95L447.2 52.55L471.7 63.25L476.2 64.15L480.4 63.65L482.5 64.95L483.6 68.35L486.9 88.55L486.7 92.15L485.4 93.95L481.8 93.95L458.9 83.55L435.9 123.55M391.8 143.45L392.17 143.79L392.66 144.21L393.27 144.78L393.96 145.57L394.7 146.65L395.47 147.9L396.28 149.28L397.17 150.96L398.2 153.09L399.4 155.85L400.96 159.78L402.86 164.78L404.8 170.02L406.51 174.65L407.7 177.85L434.85 197.2L459.5 164.85L448.7 143.95L435.9 123.55" stroke="#000" stroke-opacity="0.52" stroke-width="1.1" stroke-dasharray="3.75 1.62" stroke-linecap="butt"/>
</g>
<rect x="429.3" y="18.6" width="61.2" height="12.4" rx="1.7" fill="#eaeaf2" fill-opacity="0.8" stroke="#cccccc" stroke-width="0.7"/>
<path d="M432.2 24.2h14.85" stroke="#000" stroke-opacity="0.62" stroke-width="1.0" stroke-dasharray="3.75 1.62" fill="none"/>
<text x="453" y="26.7" font-size="7.45">reference</text>
<rect x="505.2" y="14.8" width="8.9" height="192.95" fill="url(#jetgrad)"/>
<path d="M514.8 14.65h3.8" stroke="#111111" stroke-width="0.85"/>
<text x="520.7" y="17.45" font-size="7.3">22.055</text>
<path d="M514.8 111.3h3.8" stroke="#111111" stroke-width="0.85"/>
<text x="520.7" y="114.1" font-size="7.3">11.028</text>
<path d="M514.8 207.95h3.8" stroke="#111111" stroke-width="0.85"/>
<text x="520.7" y="210.75" font-size="7.3">0.000</text>
<text x="414.7" y="256.4" text-anchor="middle" font-family="'Liberation Serif','DejaVu Serif',serif" font-size="13.8" fill="#111">(<tspan font-weight="bold">b</tspan>)</text>
</g>
<g id="plot-c">
<rect x="46.05" y="295.8" width="172.35" height="192" fill="#eaeaf2"/>
<path d="M57.48 295.8V487.8M87.5 295.8V487.8M117.52 295.8V487.8M147.54 295.8V487.8M177.56 295.8V487.8M207.58 295.8V487.8M46.05 467.02H218.4M46.05 437H218.4M46.05 406.98H218.4M46.05 376.96H218.4M46.05 346.94H218.4M46.05 316.92H218.4" stroke="#fff" stroke-width="0.8" fill="none"/>
<text x="57.48" y="500.4" text-anchor="middle" font-size="7.45">−100</text>
<text x="87.5" y="500.4" text-anchor="middle" font-size="7.45">0</text>
<text x="117.52" y="500.4" text-anchor="middle" font-size="7.45">100</text>
<text x="147.54" y="500.4" text-anchor="middle" font-size="7.45">200</text>
<text x="177.56" y="500.4" text-anchor="middle" font-size="7.45">300</text>
<text x="207.58" y="500.4" text-anchor="middle" font-size="7.45">400</text>
<text x="39.55" y="470.02" text-anchor="end" font-size="7.45">−100</text>
<text x="39.55" y="440" text-anchor="end" font-size="7.45">0</text>
<text x="39.55" y="409.98" text-anchor="end" font-size="7.45">100</text>
<text x="39.55" y="379.96" text-anchor="end" font-size="7.45">200</text>
<text x="39.55" y="349.94" text-anchor="end" font-size="7.45">300</text>
<text x="39.55" y="319.92" text-anchor="end" font-size="7.45">400</text>
<text x="132.22" y="510.5" text-anchor="middle" font-size="8.1"><tspan font-style="italic">x</tspan> (m)</text>
<text transform="translate(14.55 391.8) rotate(-90)" text-anchor="middle" font-size="8.1"><tspan font-style="italic">y</tspan> (m)</text>
<text x="132.22" y="291.3" text-anchor="middle" font-size="8.1">Error mapped onto trajectory</text>
<clipPath id="clip-c"><rect x="46.05" y="295.8" width="172.35" height="192"/></clipPath>
<g clip-path="url(#clip-c)" fill="none" stroke-linecap="round" stroke-linejoin="round">
<path d="M92.73 317.07L91.96 316.69L91.18 316.31L90.07 315.78L88.96 315.24L87.69 314.62" stroke="#c9ff2e"/>
<path d="M87.69 314.62L86.42 313.99L85.17 313.35L83.93 312.7L82.9 312.1L81.88 311.51" stroke="#bcff3b"/>
<path d="M81.88 311.51L81.06 310.92L80.25 310.34L79.53 309.73L78.81 309.11L78.18 308.52L77.55 307.92L77 307.39L76.46 306.86" stroke="#afff48"/>
<path d="M76.46 306.86L75.53 306.02L74.79 305.46L74.26 305.1L73.88 304.88L73.6 304.73L73.38 304.61L72.56 305.22" stroke="#a2ff55"/>
<path d="M72.56 305.22L71.74 305.84L71.13 306.63L70.53 307.42L69.66 308.51L68.8 309.6L68.14 310.47L67.47 311.34L66.81 312.22L66.14 313.19L65.47 314.17L64.8 315.14L64.21 316.17L63.62 317.19L63.03 318.22L62.5 319.33L61.97 320.44L61.44 321.55L60.93 322.78L60.41 324.01L59.89 325.24L59.4 326.54L58.91 327.83L58.42 329.13L57.98 330.45L57.54 331.76" stroke="#afff48"/>
<path d="M57.54 331.76L57.09 333.07L56.71 334.36L56.33 335.64L55.95 336.92L55.64 338.17L55.32 339.42L55.01 340.68" stroke="#a2ff55"/>
<path d="M55.01 340.68L54.75 341.93L54.48 343.18L54.22 344.44L54.01 345.69L53.8 346.94" stroke="#95ff62"/>
<path d="M53.8 346.94L53.59 348.2L53.43 349.45L53.27 350.7L53.11 351.96L53 353.21" stroke="#88ff6f"/>
<path d="M53 353.21L52.88 354.46L52.77 355.71L52.71 356.96" stroke="#7bff7b"/>
<path d="M52.71 356.96L52.64 358.2L52.58 359.45L52.56 360.7" stroke="#6fff88"/>
<path d="M52.56 360.7L52.55 361.95L52.54 363.19L52.57 364.44" stroke="#62ff95"/>
<path d="M52.57 364.44L52.6 365.69L52.64 366.93L52.72 368.17" stroke="#55ffa2"/>
<path d="M52.72 368.17L52.8 369.42L52.89 370.66L53.02 371.9" stroke="#48ffaf"/>
<path d="M53.02 371.9L53.15 373.14L53.28 374.38L53.41 375.48" stroke="#3bffbc"/>
<path d="M53.41 375.48L53.54 376.59" stroke="#2effc9"/>
<path d="M53.54 376.59L53.68 377.7L53.89 379.16" stroke="#21ffd5"/>
<path d="M53.89 379.16L54.1 380.63" stroke="#15ffe2"/>
<path d="M54.1 380.63L54.3 381.67" stroke="#08efef"/>
<path d="M54.3 381.67L54.51 382.7L54.72 383.74" stroke="#00dffc"/>
<path d="M54.72 383.74L55.06 385.03L55.4 386.32" stroke="#00cfff"/>
<path d="M55.4 386.32L55.75 387.61" stroke="#00bfff"/>
<path d="M55.75 387.61L56.15 388.92L56.56 390.22L56.96 391.52" stroke="#00afff"/>
<path d="M56.96 391.52L57.37 392.83L57.81 394.09" stroke="#009fff"/>
<path d="M57.81 394.09L58.25 395.36L58.7 396.63" stroke="#008fff"/>
<path d="M58.7 396.63L59.14 397.9L59.58 399.16" stroke="#0080ff"/>
<path d="M59.58 399.16L60.03 400.43L60.53 401.81L61.04 403.18" stroke="#0070ff"/>
<path d="M61.04 403.18L61.55 404.55L62.06 405.93" stroke="#0060ff"/>
<path d="M62.06 405.93L62.57 407.3L63.08 408.67" stroke="#0050ff"/>
<path d="M63.08 408.67L63.59 410.05L64.07 411.3L64.54 412.56" stroke="#0040ff"/>
<path d="M64.54 412.56L65.02 413.81L65.49 415.07L65.97 416.32" stroke="#0030ff"/>
<path d="M65.97 416.32L66.45 417.58L66.92 418.83L67.4 420.09" stroke="#0020ff"/>
<path d="M67.4 420.09L67.89 421.36L68.37 422.63" stroke="#0010ff"/>
<path d="M68.37 422.63L68.86 423.89L69.34 425.16L69.83 426.43" stroke="#0000ff"/>
<path d="M69.83 426.43L70.31 427.7L70.8 428.97" stroke="#0000fe"/>
<path d="M70.8 428.97L71.27 430.19L71.73 431.42" stroke="#0000ec"/>
<path d="M71.73 431.42L72.2 432.65L72.66 433.87" stroke="#0000da"/>
<path d="M72.66 433.87L73.13 435.1L73.68 436.22" stroke="#0000c8"/>
<path d="M73.68 436.22L74.22 437.34L74.77 438.46" stroke="#0000b6"/>
<path d="M74.77 438.46L75.89 439.06L77.02 439.67L78.25 439.71L79.48 439.74L80.71 439.78L81.94 439.81L83.17 439.85L84.29 438.98L85.42 438.1" stroke="#0000a4"/>
<path d="M85.42 438.1L86.15 436.85L86.88 435.6L87.61 434.35L88.34 433.1L89.06 431.85L89.79 430.6L90.52 429.35L91.25 428.1" stroke="#0000a4"/>
<path d="M91.25 428.1L91.98 426.85L92.71 425.6L93.44 424.35L94.17 423.1L94.9 421.85L95.62 420.6L96.35 419.35L97.08 418.1L97.81 416.85L98.54 415.6" stroke="#0000b6"/>
<path d="M113.49 424.52L112.25 423.77L111 423.03L109.75 422.29L108.51 421.54L107.26 420.8L106.02 420.06L104.77 419.32L103.52 418.57L102.28 417.83L101.03 417.09L99.79 416.34L98.54 415.6" stroke="#0000a4"/>
<path d="M138.29 392.88L137.83 393.81" stroke="#00bfff"/>
<path d="M137.83 393.81L137.18 395.13L136.8 395.89" stroke="#00afff"/>
<path d="M136.8 395.89L136.42 396.66L136.03 397.44L135.64 398.22" stroke="#009fff"/>
<path d="M135.64 398.22L135.27 398.92L134.91 399.63" stroke="#008fff"/>
<path d="M134.91 399.63L134.22 400.91" stroke="#0080ff"/>
<path d="M134.22 400.91L133.52 402.18L132.83 403.42" stroke="#0070ff"/>
<path d="M132.83 403.42L132.16 404.59" stroke="#0060ff"/>
<path d="M132.16 404.59L131.53 405.66" stroke="#0050ff"/>
<path d="M131.53 405.66L130.96 406.62L130.44 407.48" stroke="#0040ff"/>
<path d="M130.44 407.48L129.94 408.28L129.42 409.06" stroke="#0030ff"/>
<path d="M129.42 409.06L128.86 409.86" stroke="#0020ff"/>
<path d="M128.86 409.86L128.29 410.66L127.73 411.43" stroke="#0010ff"/>
<path d="M127.73 411.43L127.12 412.22" stroke="#0000ff"/>
<path d="M127.12 412.22L126.43 413.04L125.58 413.95" stroke="#0000fe"/>
<path d="M125.58 413.95L124.55 414.98L123.96 415.53L123.36 416.09L122.73 416.67" stroke="#0000ec"/>
<path d="M122.73 416.67L122.09 417.24L121.44 417.82L120.79 418.39L120.16 418.94L119.54 419.49" stroke="#0000da"/>
<path d="M119.54 419.49L118.88 420.05L118.23 420.61L117.53 421.19L116.83 421.78L116.15 422.33" stroke="#0000c8"/>
<path d="M116.15 422.33L115.48 422.89L114.31 423.84L113.49 424.52" stroke="#0000b6"/>
<path d="M158.67 404.02L157.4 403.32L156.13 402.62" stroke="#55ffa2"/>
<path d="M156.13 402.62L154.85 401.93L153.58 401.23L152.3 400.54L151.03 399.84L149.76 399.14L148.48 398.45L147.21 397.75L145.93 397.06L144.66 396.36" stroke="#48ffaf"/>
<path d="M144.66 396.36L143.39 395.66L142.11 394.97L140.84 394.27L139.57 393.58L138.29 392.88L138.74 391.53" stroke="#3bffbc"/>
<path d="M138.74 391.53L139.19 390.18L139.65 388.84L140.1 387.49L140.55 386.14" stroke="#2effc9"/>
<path d="M92.73 317.07L94.06 317.73" stroke="#e2ff15"/>
<path d="M94.06 317.73L95.38 318.39L96.7 319.04" stroke="#effe08"/>
<path d="M96.7 319.04L98.02 319.7L99.34 320.36" stroke="#fcf000"/>
<path d="M99.34 320.36L100.67 321.01L101.99 321.67" stroke="#ffe100"/>
<path d="M101.99 321.67L103.31 322.33L104.63 322.99" stroke="#ffd200"/>
<path d="M104.63 322.99L105.96 323.64" stroke="#ffc300"/>
<path d="M105.96 323.64L107.28 324.3L108.6 324.96" stroke="#ffb500"/>
<path d="M108.6 324.96L109.92 325.62L111.25 326.27" stroke="#ffa600"/>
<path d="M111.25 326.27L112.57 326.93L113.89 327.59" stroke="#ff9700"/>
<path d="M113.89 327.59L115.21 328.25" stroke="#ff8800"/>
<path d="M115.21 328.25L116.54 328.9L117.86 329.56" stroke="#ff7a00"/>
<path d="M117.86 329.56L119.18 330.22L120.5 330.88" stroke="#ff6b00"/>
<path d="M120.5 330.88L121.83 331.53L123.15 332.19" stroke="#ff5c00"/>
<path d="M123.15 332.19L124.47 332.85" stroke="#ff4d00"/>
<path d="M124.47 332.85L125.79 333.51L127.12 334.16" stroke="#ff3f00"/>
<path d="M127.12 334.16L128.44 334.82L129.76 335.48" stroke="#ff3000"/>
<path d="M129.76 335.48L131.08 336.14L132.4 336.79" stroke="#ff2100"/>
<path d="M132.4 336.79L133.73 337.45L135.05 338.11" stroke="#fe1200"/>
<path d="M135.05 338.11L136.37 338.77" stroke="#ec0400"/>
<path d="M136.37 338.77L137.69 339.42" stroke="#da0000"/>
<path d="M137.69 339.42L137.02 340.76" stroke="#ec0400"/>
<path d="M137.02 340.76L136.35 342.1" stroke="#fe1200"/>
<path d="M136.35 342.1L135.68 343.45" stroke="#ff2100"/>
<path d="M135.68 343.45L135.01 344.79" stroke="#ff3000"/>
<path d="M135.01 344.79L134.34 346.13" stroke="#ff3f00"/>
<path d="M134.34 346.13L133.67 347.47" stroke="#ff4d00"/>
<path d="M133.67 347.47L133 348.81" stroke="#ff5c00"/>
<path d="M133 348.81L132.33 350.15" stroke="#ff6b00"/>
<path d="M132.33 350.15L131.66 351.49" stroke="#ff7a00"/>
<path d="M131.66 351.49L130.99 352.83" stroke="#ff8800"/>
<path d="M130.99 352.83L130.32 354.17" stroke="#ff9700"/>
<path d="M130.32 354.17L129.65 355.51" stroke="#ffa600"/>
<path d="M129.65 355.51L128.98 356.86" stroke="#ffb500"/>
<path d="M128.98 356.86L128.31 358.2" stroke="#ffc300"/>
<path d="M128.31 358.2L127.64 359.54" stroke="#ffd200"/>
<path d="M127.64 359.54L126.97 360.88" stroke="#ffe100"/>
<path d="M126.97 360.88L126.3 362.22" stroke="#fcf000"/>
<path d="M126.3 362.22L125.63 363.56" stroke="#effe08"/>
<path d="M125.63 363.56L124.96 364.9" stroke="#e2ff15"/>
<path d="M124.96 364.9L124.29 366.24" stroke="#d5ff21"/>
<path d="M124.29 366.24L123.62 367.58" stroke="#c9ff2e"/>
<path d="M123.62 367.58L122.95 368.93" stroke="#bcff3b"/>
<path d="M122.95 368.93L122.28 370.27" stroke="#afff48"/>
<path d="M122.28 370.27L121.61 371.61" stroke="#a2ff55"/>
<path d="M121.61 371.61L120.94 372.95" stroke="#95ff62"/>
<path d="M120.94 372.95L120.27 374.29" stroke="#88ff6f"/>
<path d="M120.27 374.29L121.56 375.04" stroke="#7bff7b"/>
<path d="M121.56 375.04L122.85 375.8L124.14 376.55L125.43 377.31" stroke="#6fff88"/>
<path d="M125.43 377.31L126.72 378.06L128.01 378.81L129.3 379.57" stroke="#62ff95"/>
<path d="M129.3 379.57L130.59 380.32L131.88 381.08L133.17 381.83" stroke="#55ffa2"/>
<path d="M133.17 381.83L134.46 382.58L135.68 383.29L136.9 384.01L138.11 384.72" stroke="#48ffaf"/>
<path d="M138.11 384.72L139.33 385.43L140.55 386.14" stroke="#3bffbc"/>
<path d="M98.54 415.6L99.14 414.27L99.75 412.94L100.36 411.61" stroke="#0060ff"/>
<path d="M100.36 411.61L100.96 410.27L101.57 408.94L102.17 407.61L102.78 406.28L103.38 404.94L103.99 403.61" stroke="#0070ff"/>
<path d="M103.99 403.61L104.59 402.28L105.2 400.95L105.8 399.62L106.41 398.28L107.01 396.95L107.62 395.62" stroke="#0080ff"/>
<path d="M107.62 395.62L108.22 394.29L108.83 392.95L109.43 391.62L110.04 390.29L110.64 388.96L111.25 387.62" stroke="#008fff"/>
<path d="M111.25 387.62L111.85 386.29L112.46 384.96L113.06 383.63L113.67 382.3L114.27 380.96L114.88 379.63" stroke="#009fff"/>
<path d="M114.88 379.63L115.48 378.3L116.09 376.97L116.69 375.63L117.3 374.3L115.97 373.64L114.64 372.98L113.3 372.32L111.97 371.66L110.64 371L109.31 370.34L107.98 369.68L106.65 369.02L105.32 368.36L103.98 367.69L102.65 367.03L101.32 366.37L99.99 365.71L98.66 365.05L97.33 364.39L96.41 364.75L95.48 365.11L94.56 366.03L93.64 366.96L92.77 366.96L91.9 366.96L90.63 366.24" stroke="#00afff"/>
<path d="M90.63 366.24L89.37 365.52L88.1 364.8L86.83 364.07" stroke="#00bfff"/>
<path d="M86.83 364.07L85.57 363.35L84.3 362.63" stroke="#00cfff"/>
<path d="M84.3 362.63L83.04 361.9L81.77 361.18L80.51 360.46" stroke="#00dffc"/>
<path d="M80.51 360.46L79.24 359.73L77.98 359.01L76.71 358.29" stroke="#08efef"/>
<path d="M76.71 358.29L75.44 357.56L74.18 356.84L73.72 356.03L73.26 355.21" stroke="#15ffe2"/>
<path d="M73.26 355.21L73.51 354.5L73.77 353.78" stroke="#21ffd5"/>
<path d="M73.77 353.78L74.45 352.47L75.12 351.16L75.8 349.85" stroke="#2effc9"/>
<path d="M75.8 349.85L76.48 348.54L77.16 347.22L77.83 345.91L78.51 344.6" stroke="#3bffbc"/>
<path d="M78.51 344.6L79.19 343.29L79.87 341.98L80.54 340.67L81.22 339.36" stroke="#48ffaf"/>
<path d="M81.22 339.36L81.9 338.05L82.57 336.74L83.25 335.43" stroke="#55ffa2"/>
<path d="M83.25 335.43L83.93 334.11L84.61 332.8L85.28 331.49L85.96 330.18" stroke="#62ff95"/>
<path d="M85.96 330.18L86.64 328.87L87.31 327.56L87.99 326.25L88.67 324.94" stroke="#6fff88"/>
<path d="M88.67 324.94L89.35 323.63L90.02 322.31L90.7 321" stroke="#7bff7b"/>
<path d="M90.7 321L91.38 319.69L92.06 318.38L92.73 317.07" stroke="#88ff6f"/>
<path d="M140.55 386.14L141.26 384.84" stroke="#08efef"/>
<path d="M141.26 384.84L141.96 383.54L142.67 382.24L143.38 380.94" stroke="#15ffe2"/>
<path d="M143.38 380.94L144.09 379.64L144.79 378.34L145.5 377.04" stroke="#21ffd5"/>
<path d="M145.5 377.04L146.21 375.74L146.92 374.44" stroke="#2effc9"/>
<path d="M146.92 374.44L147.62 373.14L148.33 371.83L149.04 370.53" stroke="#3bffbc"/>
<path d="M149.04 370.53L149.75 369.23L150.46 367.93L151.16 366.63" stroke="#48ffaf"/>
<path d="M151.16 366.63L151.87 365.33L152.58 364.03L153.29 362.73" stroke="#55ffa2"/>
<path d="M153.29 362.73L153.99 361.43L154.7 360.13" stroke="#62ff95"/>
<path d="M154.7 360.13L155.41 358.83L156.12 357.53L156.82 356.23" stroke="#6fff88"/>
<path d="M156.82 356.23L157.53 354.93L158.24 353.63L158.95 352.33" stroke="#7bff7b"/>
<path d="M158.95 352.33L159.66 351.03L160.36 349.73L161.07 348.43" stroke="#88ff6f"/>
<path d="M161.07 348.43L161.78 347.13L162.49 345.83" stroke="#95ff62"/>
<path d="M162.49 345.83L163.19 344.53L163.9 343.23L164.61 341.93" stroke="#a2ff55"/>
<path d="M164.61 341.93L165.32 340.63L166.03 339.33L166.73 338.03" stroke="#afff48"/>
<path d="M166.73 338.03L167.44 336.73L168.15 335.43L168.86 334.13" stroke="#bcff3b"/>
<path d="M168.86 334.13L169.56 332.83L170.27 331.53" stroke="#c9ff2e"/>
<path d="M170.27 331.53L171.59 332.1L172.91 332.66L174.23 333.23" stroke="#d5ff21"/>
<path d="M174.23 333.23L175.55 333.8L176.87 334.37" stroke="#e2ff15"/>
<path d="M176.87 334.37L178.2 334.94L179.52 335.51" stroke="#effe08"/>
<path d="M179.52 335.51L180.84 336.08L182.16 336.65" stroke="#fcf000"/>
<path d="M182.16 336.65L183.48 337.21L184.8 337.78L186.12 338.35" stroke="#ffe100"/>
<path d="M186.12 338.35L187.44 338.92L188.76 339.49" stroke="#ffd200"/>
<path d="M188.76 339.49L190.08 340.06L191.4 340.63" stroke="#ffc300"/>
<path d="M191.4 340.63L192.72 341.2L194.04 341.77" stroke="#ffb500"/>
<path d="M194.04 341.77L195.36 342.33L196.52 342.56L197.67 342.78" stroke="#ffa600"/>
<path d="M197.67 342.78L198.82 343.01L199.97 343.23" stroke="#ff9700"/>
<path d="M199.97 343.23L201.41 343.06" stroke="#ff8800"/>
<path d="M201.41 343.06L202.84 342.88L204.28 342.7" stroke="#ff7a00"/>
<path d="M204.28 342.7L205.35 343.36" stroke="#ff6b00"/>
<path d="M205.35 343.36L206.43 344.02L206.8 345.18" stroke="#ff5c00"/>
<path d="M206.8 345.18L207.18 346.33L207.55 347.48" stroke="#ff4d00"/>
<path d="M207.55 347.48L207.79 348.96L208.03 350.43" stroke="#ff3f00"/>
<path d="M208.03 350.43L208.28 351.9L208.52 353.37" stroke="#ff3000"/>
<path d="M208.52 353.37L208.76 354.84L209 356.31L209.24 357.78" stroke="#ff2100"/>
<path d="M209.24 357.78L209.48 359.25L209.72 360.72" stroke="#fe1200"/>
<path d="M209.72 360.72L209.96 362.19L210.2 363.67L210.44 365.14" stroke="#ec0400"/>
<path d="M210.44 365.14L210.69 366.61L210.93 368.08" stroke="#da0000"/>
<path d="M210.93 368.08L210.86 369.3" stroke="#c80000"/>
<path d="M210.86 369.3L210.79 370.53" stroke="#b60000"/>
<path d="M210.79 370.53L210.72 371.75" stroke="#a40000"/>
<path d="M210.72 371.75L210.05 372.67" stroke="#920000"/>
<path d="M210.05 372.67L209.39 373.6L208.16 373.6" stroke="#800000"/>
<path d="M208.16 373.6L206.93 373.61L205.7 373.61" stroke="#920000"/>
<path d="M205.7 373.61L204.4 373.03" stroke="#a40000"/>
<path d="M204.4 373.03L203.09 372.44" stroke="#b60000"/>
<path d="M203.09 372.44L201.79 371.86" stroke="#c80000"/>
<path d="M201.79 371.86L200.49 371.28" stroke="#ec0400"/>
<path d="M200.49 371.28L199.19 370.69" stroke="#fe1200"/>
<path d="M199.19 370.69L197.88 370.11" stroke="#ff2100"/>
<path d="M197.88 370.11L196.58 369.52" stroke="#ff3000"/>
<path d="M196.58 369.52L195.28 368.94" stroke="#ff3f00"/>
<path d="M195.28 368.94L193.97 368.36" stroke="#ff5c00"/>
<path d="M193.97 368.36L192.67 367.77" stroke="#ff6b00"/>
<path d="M192.67 367.77L191.37 367.19" stroke="#ff7a00"/>
<path d="M191.37 367.19L190.06 366.61" stroke="#ff8800"/>
<path d="M190.06 366.61L188.76 366.02" stroke="#ff9700"/>
<path d="M188.76 366.02L187.46 365.44" stroke="#ffb500"/>
<path d="M187.46 365.44L186.15 364.85" stroke="#ffc300"/>
<path d="M186.15 364.85L184.85 364.27" stroke="#ffd200"/>
<path d="M184.85 364.27L183.55 363.69" stroke="#ffe100"/>
<path d="M183.55 363.69L182.25 363.1" stroke="#fcf000"/>
<path d="M182.25 363.1L181.51 364.38" stroke="#effe08"/>
<path d="M181.51 364.38L180.77 365.66L180.04 366.94L179.3 368.22L178.56 369.5" stroke="#e2ff15"/>
<path d="M178.56 369.5L177.83 370.77L177.09 372.05L176.35 373.33" stroke="#d5ff21"/>
<path d="M176.35 373.33L175.62 374.61L174.88 375.89L174.14 377.17" stroke="#c9ff2e"/>
<path d="M174.14 377.17L173.41 378.44L172.67 379.72L171.93 381" stroke="#bcff3b"/>
<path d="M171.93 381L171.2 382.28L170.46 383.56L169.72 384.84" stroke="#afff48"/>
<path d="M169.72 384.84L168.99 386.12L168.25 387.39L167.51 388.67" stroke="#a2ff55"/>
<path d="M167.51 388.67L166.78 389.95L166.04 391.23L165.3 392.51" stroke="#95ff62"/>
<path d="M165.3 392.51L164.57 393.79L163.83 395.07L163.09 396.34" stroke="#88ff6f"/>
<path d="M163.09 396.34L162.36 397.62L161.62 398.9L160.88 400.18L160.15 401.46" stroke="#7bff7b"/>
<path d="M160.15 401.46L159.41 402.74L158.67 404.02" stroke="#6fff88"/>
<path d="M113.49 424.52L113.87 424.86" stroke="#0000fe"/>
<path d="M113.87 424.86L114.38 425.29" stroke="#0010ff"/>
<path d="M114.38 425.29L115 425.87" stroke="#0020ff"/>
<path d="M115 425.87L115.7 426.67" stroke="#0040ff"/>
<path d="M115.7 426.67L116.46 427.77" stroke="#0050ff"/>
<path d="M116.46 427.77L117.25 429.04" stroke="#0070ff"/>
<path d="M117.25 429.04L117.66 429.74" stroke="#008fff"/>
<path d="M117.66 429.74L118.08 430.45" stroke="#009fff"/>
<path d="M118.08 430.45L118.54 431.3" stroke="#00afff"/>
<path d="M118.54 431.3L119 432.15" stroke="#00bfff"/>
<path d="M119 432.15L119.52 433.24" stroke="#00cfff"/>
<path d="M119.52 433.24L120.05 434.33" stroke="#00dffc"/>
<path d="M120.05 434.33L120.45 435.26L120.86 436.2" stroke="#08efef"/>
<path d="M120.86 436.2L121.27 437.13" stroke="#15ffe2"/>
<path d="M121.27 437.13L121.81 438.47L122.34 439.8" stroke="#21ffd5"/>
<path d="M122.34 439.8L122.87 441.14" stroke="#2effc9"/>
<path d="M122.87 441.14L123.36 442.41L123.84 443.69" stroke="#3bffbc"/>
<path d="M123.84 443.69L124.33 444.96L124.81 446.23" stroke="#48ffaf"/>
<path d="M124.81 446.23L125.31 447.57L125.81 448.9" stroke="#55ffa2"/>
<path d="M125.81 448.9L126.31 450.23" stroke="#62ff95"/>
<path d="M126.31 450.23L126.8 451.57L127.24 452.75" stroke="#6fff88"/>
<path d="M127.24 452.75L127.68 453.93L128.12 455.11" stroke="#7bff7b"/>
<path d="M128.12 455.11L128.55 456.29L128.96 457.37" stroke="#88ff6f"/>
<path d="M128.96 457.37L129.36 458.46" stroke="#95ff62"/>
<path d="M129.36 458.46L129.77 459.54" stroke="#a2ff55"/>
<path d="M129.77 459.54L130.98 460.39" stroke="#afff48"/>
<path d="M130.98 460.39L132.19 461.25" stroke="#bcff3b"/>
<path d="M132.19 461.25L133.39 462.1" stroke="#c9ff2e"/>
<path d="M133.39 462.1L134.6 462.95" stroke="#d5ff21"/>
<path d="M134.6 462.95L135.81 463.81" stroke="#e2ff15"/>
<path d="M135.81 463.81L137.02 464.66" stroke="#effe08"/>
<path d="M137.02 464.66L138.23 465.51" stroke="#fcf000"/>
<path d="M138.23 465.51L139.44 466.37L140.65 467.22" stroke="#ffe100"/>
<path d="M140.65 467.22L141.86 468.07" stroke="#ffd200"/>
<path d="M141.86 468.07L143.07 468.93" stroke="#ffc300"/>
<path d="M143.07 468.93L144.27 469.78" stroke="#ffb500"/>
<path d="M144.27 469.78L145.48 470.63" stroke="#ffa600"/>
<path d="M145.48 470.63L146.69 471.48" stroke="#ff9700"/>
<path d="M146.69 471.48L147.9 472.34" stroke="#ff8800"/>
<path d="M147.9 472.34L149.11 473.19" stroke="#ff7a00"/>
<path d="M149.11 473.19L150.32 474.04" stroke="#ff6b00"/>
<path d="M150.32 474.04L151.53 474.9" stroke="#ff5c00"/>
<path d="M151.53 474.9L152.74 475.75" stroke="#ff4d00"/>
<path d="M152.74 475.75L153.95 476.6" stroke="#ff3f00"/>
<path d="M153.95 476.6L155.16 477.46" stroke="#ff3000"/>
<path d="M155.16 477.46L156.36 478.31" stroke="#ff2100"/>
<path d="M156.36 478.31L157.57 479.16" stroke="#fe1200"/>
<path d="M157.57 479.16L158.48 477.98" stroke="#ec0400"/>
<path d="M158.48 477.98L159.38 476.8L160.28 475.61L161.18 474.43L162.08 473.25L162.99 472.07" stroke="#fe1200"/>
<path d="M162.99 472.07L163.89 470.88L164.79 469.7L165.69 468.52L166.59 467.34L167.5 466.15" stroke="#ff2100"/>
<path d="M167.5 466.15L168.4 464.97L169.3 463.79L170.2 462.6L171.11 461.42L172.01 460.24L172.91 459.06" stroke="#ff3000"/>
<path d="M172.91 459.06L173.81 457.87L174.71 456.69L175.62 455.51L176.52 454.33L177.42 453.14" stroke="#ff3f00"/>
<path d="M177.42 453.14L178.32 451.96L179.23 450.78L180.13 449.6L181.03 448.41L181.93 447.23L182.83 446.05" stroke="#ff4d00"/>
<path d="M182.83 446.05L182.14 444.72" stroke="#ff5c00"/>
<path d="M182.14 444.72L181.45 443.39" stroke="#ff6b00"/>
<path d="M181.45 443.39L180.76 442.06L180.07 440.73" stroke="#ff7a00"/>
<path d="M180.07 440.73L179.38 439.4" stroke="#ff8800"/>
<path d="M179.38 439.4L178.69 438.07" stroke="#ff9700"/>
<path d="M178.69 438.07L178 436.74" stroke="#ffa600"/>
<path d="M178 436.74L177.31 435.41L176.61 434.08" stroke="#ffb500"/>
<path d="M176.61 434.08L175.92 432.75" stroke="#ffc300"/>
<path d="M175.92 432.75L175.23 431.42" stroke="#ffd200"/>
<path d="M175.23 431.42L174.54 430.09" stroke="#ffe100"/>
<path d="M174.54 430.09L173.85 428.76L173.16 427.43" stroke="#fcf000"/>
<path d="M173.16 427.43L172.47 426.1" stroke="#effe08"/>
<path d="M172.47 426.1L171.78 424.77" stroke="#e2ff15"/>
<path d="M171.78 424.77L171.01 423.55L170.24 422.33" stroke="#d5ff21"/>
<path d="M170.24 422.33L169.47 421.11" stroke="#c9ff2e"/>
<path d="M169.47 421.11L168.69 419.89L167.92 418.67" stroke="#bcff3b"/>
<path d="M167.92 418.67L167.15 417.45L166.38 416.23" stroke="#afff48"/>
<path d="M166.38 416.23L165.61 415" stroke="#a2ff55"/>
<path d="M165.61 415L164.84 413.78L164.07 412.56" stroke="#95ff62"/>
<path d="M164.07 412.56L163.3 411.34" stroke="#88ff6f"/>
<path d="M163.3 411.34L162.53 410.12L161.76 408.9" stroke="#7bff7b"/>
<path d="M161.76 408.9L160.99 407.68" stroke="#6fff88"/>
<path d="M160.99 407.68L160.21 406.46L159.44 405.24" stroke="#62ff95"/>
<path d="M159.44 405.24L158.67 404.02" stroke="#55ffa2"/>
<path d="M93.04 317.32L91.49 316.57L89.26 315.5L86.72 314.25L84.24 312.96L82.18 311.76L80.56 310.59L79.12 309.37L77.86 308.17L76.76 307.11L75.83 306.28L75.1 305.71L74.57 305.35L74.19 305.13L73.91 304.99L73.68 304.86L72.04 306.09L70.83 307.67L69.11 309.85L67.12 312.47L65.11 315.39L63.33 318.47L61.75 321.81L60.2 325.5L58.73 329.39L57.4 333.33L56.26 337.18L55.32 340.93L54.53 344.69L53.9 348.45L53.42 352.21L53.08 355.96L52.89 359.71L52.84 363.45L52.95 367.18L53.19 370.91L53.58 374.63L53.99 377.95L54.4 380.88L55.03 384L56.05 387.87L57.68 393.08L60.33 400.69L63.9 410.3L67.71 420.34L71.11 429.22L73.44 435.35L75.07 438.71L77.33 439.93L83.47 440.1L85.73 438.36M85.73 438.36L98.85 415.86M113.8 424.77L98.85 415.86M138.6 393.14L138.14 394.06L137.49 395.38L136.73 396.91L135.95 398.47L135.22 399.88L134.53 401.17L133.83 402.44L133.14 403.67L132.46 404.84L131.83 405.92L131.27 406.88L130.75 407.73L130.25 408.53L129.73 409.31L129.17 410.11L128.6 410.91L128.03 411.69L127.43 412.47L126.73 413.3L125.89 414.21L124.86 415.23L123.67 416.34L122.4 417.5L121.1 418.65L119.84 419.74L118.54 420.86L117.14 422.03L115.78 423.15L114.62 424.09L113.8 424.77M158.98 404.27L138.6 393.14L140.85 386.39M93.04 317.32L138 339.68L120.58 374.54L134.77 382.84L140.85 386.39M98.85 415.86L117.61 374.56L97.63 364.64L95.79 365.37L93.95 367.21L92.2 367.22L74.49 357.09L73.57 355.46L74.08 354.03L93.04 317.32M140.85 386.39L170.58 331.78L195.67 342.59L200.28 343.49L204.58 342.96L206.73 344.27L207.86 347.74L211.23 368.33L211.03 372.01L209.7 373.85L206.01 373.86L182.55 363.36L158.98 404.27M113.8 424.77L114.17 425.11L114.69 425.54L115.31 426.12L116.01 426.93L116.77 428.02L117.55 429.29L118.38 430.7L119.3 432.41L120.35 434.58L121.58 437.39L123.18 441.39L125.12 446.49L127.11 451.82L128.86 456.54L130.08 459.8L157.88 479.42L183.14 446.3L172.08 425.03L158.98 404.27" stroke="#000" stroke-opacity="0.52" stroke-width="1.1" stroke-dasharray="3.75 1.62" stroke-linecap="butt"/>
</g>
<rect x="153.9" y="299.4" width="61.2" height="12.4" rx="1.7" fill="#eaeaf2" fill-opacity="0.8" stroke="#cccccc" stroke-width="0.7"/>
<path d="M156.8 305h14.85" stroke="#000" stroke-opacity="0.62" stroke-width="1.0" stroke-dasharray="3.75 1.62" fill="none"/>
<text x="177.6" y="307.5" font-size="7.45">reference</text>
<rect x="229.95" y="295.6" width="9.2" height="192.55" fill="url(#jetgrad)"/>
<path d="M239.85 295.45h3.8" stroke="#111111" stroke-width="0.85"/>
<text x="245.75" y="298.25" font-size="7.3">7.876</text>
<path d="M239.85 391.9h3.8" stroke="#111111" stroke-width="0.85"/>
<text x="245.75" y="394.7" font-size="7.3">3.938</text>
<path d="M239.85 488.35h3.8" stroke="#111111" stroke-width="0.85"/>
<text x="245.75" y="491.15" font-size="7.3">0.000</text>
<text x="135.8" y="537.4" text-anchor="middle" font-family="'Liberation Serif','DejaVu Serif',serif" font-size="13.8" fill="#111">(<tspan font-weight="bold">c</tspan>)</text>
</g>
<g id="plot-d">
<rect x="324.9" y="295.8" width="172.1" height="192" fill="#eaeaf2"/>
<path d="M335.48 295.8V487.8M365.5 295.8V487.8M395.52 295.8V487.8M425.54 295.8V487.8M455.56 295.8V487.8M485.58 295.8V487.8M324.9 469.72H497M324.9 439.7H497M324.9 409.68H497M324.9 379.66H497M324.9 349.64H497M324.9 319.62H497" stroke="#fff" stroke-width="0.8" fill="none"/>
<text x="335.48" y="500.4" text-anchor="middle" font-size="7.45">−100</text>
<text x="365.5" y="500.4" text-anchor="middle" font-size="7.45">0</text>
<text x="395.52" y="500.4" text-anchor="middle" font-size="7.45">100</text>
<text x="425.54" y="500.4" text-anchor="middle" font-size="7.45">200</text>
<text x="455.56" y="500.4" text-anchor="middle" font-size="7.45">300</text>
<text x="485.58" y="500.4" text-anchor="middle" font-size="7.45">400</text>
<text x="318.4" y="472.72" text-anchor="end" font-size="7.45">−100</text>
<text x="318.4" y="442.7" text-anchor="end" font-size="7.45">0</text>
<text x="318.4" y="412.68" text-anchor="end" font-size="7.45">100</text>
<text x="318.4" y="382.66" text-anchor="end" font-size="7.45">200</text>
<text x="318.4" y="352.64" text-anchor="end" font-size="7.45">300</text>
<text x="318.4" y="322.62" text-anchor="end" font-size="7.45">400</text>
<text x="410.95" y="510.5" text-anchor="middle" font-size="8.1"><tspan font-style="italic">x</tspan> (m)</text>
<text transform="translate(293.4 391.8) rotate(-90)" text-anchor="middle" font-size="8.1"><tspan font-style="italic">y</tspan> (m)</text>
<text x="410.95" y="291.3" text-anchor="middle" font-size="8.1">Error mapped onto trajectory</text>
<clipPath id="clip-d"><rect x="324.9" y="295.8" width="172.1" height="192"/></clipPath>
<g clip-path="url(#clip-d)" fill="none" stroke-linecap="round" stroke-linejoin="round">
<path d="M371.41 318.31L370.64 317.94" stroke="#ff8800"/>
<path d="M370.64 317.94L369.87 317.57L368.73 317.08" stroke="#ff7a00"/>
<path d="M368.73 317.08L367.58 316.6L366.24 316.06" stroke="#ff6b00"/>
<path d="M366.24 316.06L364.9 315.53L363.59 314.97" stroke="#ff5c00"/>
<path d="M363.59 314.97L362.28 314.41" stroke="#ff4d00"/>
<path d="M362.28 314.41L361.2 313.88L360.11 313.35" stroke="#ff3f00"/>
<path d="M360.11 313.35L359.26 312.82L358.4 312.3" stroke="#ff3000"/>
<path d="M358.4 312.3L357.64 311.73" stroke="#ff2100"/>
<path d="M357.64 311.73L356.88 311.17L356.21 310.61" stroke="#fe1200"/>
<path d="M356.21 310.61L355.55 310.06" stroke="#ec0400"/>
<path d="M355.55 310.06L354.97 309.57L354.39 309.07" stroke="#da0000"/>
<path d="M354.39 309.07L353.41 308.3" stroke="#c80000"/>
<path d="M353.41 308.3L352.64 307.79L352.08 307.46L351.68 307.26" stroke="#b60000"/>
<path d="M351.68 307.26L351.4 307.12L351.18 306.99L350.37 307.62" stroke="#a40000"/>
<path d="M350.37 307.62L349.56 308.25L348.97 309.05" stroke="#b60000"/>
<path d="M348.97 309.05L348.37 309.84" stroke="#c80000"/>
<path d="M348.37 309.84L347.53 310.94L346.68 312.04" stroke="#da0000"/>
<path d="M346.68 312.04L346.03 312.92L345.37 313.81L344.72 314.69" stroke="#ec0400"/>
<path d="M344.72 314.69L344.09 315.64L343.47 316.6" stroke="#fe1200"/>
<path d="M343.47 316.6L342.84 317.56L342.35 318.5L341.87 319.44" stroke="#ff2100"/>
<path d="M341.87 319.44L341.39 320.38L340.98 321.39" stroke="#ff3000"/>
<path d="M340.98 321.39L340.57 322.41L340.16 323.43" stroke="#ff3f00"/>
<path d="M340.16 323.43L339.75 324.58" stroke="#ff4d00"/>
<path d="M339.75 324.58L339.33 325.72L338.92 326.87" stroke="#ff5c00"/>
<path d="M338.92 326.87L338.44 328.17L337.97 329.48" stroke="#ff6b00"/>
<path d="M337.97 329.48L337.49 330.78" stroke="#ff7a00"/>
<path d="M337.49 330.78L337.06 332.1L336.63 333.42" stroke="#ff8800"/>
<path d="M336.63 333.42L336.2 334.74L335.83 336.03" stroke="#ff9700"/>
<path d="M335.83 336.03L335.46 337.32" stroke="#ffa600"/>
<path d="M335.46 337.32L335.09 338.61L334.79 339.86" stroke="#ffb500"/>
<path d="M334.79 339.86L334.48 341.12L334.18 342.37L333.94 343.62" stroke="#ffc300"/>
<path d="M333.94 343.62L333.71 344.86L333.47 346.11" stroke="#ffd200"/>
<path d="M333.47 346.11L333.29 347.35L333.11 348.58" stroke="#ffe100"/>
<path d="M333.11 348.58L332.93 349.82L332.8 351.06L332.66 352.3" stroke="#fcf000"/>
<path d="M332.66 352.3L332.53 353.53L332.45 354.77" stroke="#effe08"/>
<path d="M332.45 354.77L332.37 356L332.28 357.23" stroke="#e2ff15"/>
<path d="M332.28 357.23L332.25 358.47L332.21 359.7" stroke="#d5ff21"/>
<path d="M332.21 359.7L332.18 360.93L332.19 362.16" stroke="#c9ff2e"/>
<path d="M332.19 362.16L332.2 363.39L332.22 364.62" stroke="#bcff3b"/>
<path d="M332.22 364.62L332.28 365.84L332.34 367.07" stroke="#afff48"/>
<path d="M332.34 367.07L332.4 368.3L332.51 369.52" stroke="#a2ff55"/>
<path d="M332.51 369.52L332.62 370.74L332.73 371.97" stroke="#95ff62"/>
<path d="M332.73 371.97L332.89 373.19L333.05 374.41" stroke="#88ff6f"/>
<path d="M333.05 374.41L333.2 375.63L333.36 376.72" stroke="#7bff7b"/>
<path d="M333.36 376.72L333.52 377.81L333.68 378.9" stroke="#6fff88"/>
<path d="M333.68 378.9L333.92 380.34" stroke="#62ff95"/>
<path d="M333.92 380.34L334.15 381.78L334.38 382.8" stroke="#55ffa2"/>
<path d="M334.38 382.8L334.61 383.82L334.84 384.84" stroke="#48ffaf"/>
<path d="M334.84 384.84L335.21 386.11L335.58 387.38" stroke="#3bffbc"/>
<path d="M335.58 387.38L335.95 388.65L336.38 389.93" stroke="#2effc9"/>
<path d="M336.38 389.93L336.81 391.2L337.24 392.48L337.67 393.76" stroke="#21ffd5"/>
<path d="M337.67 393.76L338.12 395.03L338.57 396.29" stroke="#15ffe2"/>
<path d="M338.57 396.29L339.01 397.55L339.46 398.82" stroke="#08efef"/>
<path d="M339.46 398.82L339.91 400.08L340.36 401.34" stroke="#00dffc"/>
<path d="M340.36 401.34L340.87 402.71L341.38 404.08" stroke="#00cfff"/>
<path d="M341.38 404.08L341.9 405.45L342.41 406.82" stroke="#00bfff"/>
<path d="M342.41 406.82L342.92 408.19L343.44 409.56L343.95 410.93" stroke="#00afff"/>
<path d="M343.95 410.93L344.43 412.18L344.91 413.43L345.39 414.68" stroke="#009fff"/>
<path d="M345.39 414.68L345.87 415.93L346.35 417.18" stroke="#008fff"/>
<path d="M346.35 417.18L346.83 418.43L347.31 419.68L347.8 420.93" stroke="#0080ff"/>
<path d="M347.8 420.93L348.28 422.2L348.77 423.46" stroke="#0070ff"/>
<path d="M348.77 423.46L349.26 424.72L349.75 425.99L350.24 427.25" stroke="#0060ff"/>
<path d="M350.24 427.25L350.73 428.52L351.22 429.78" stroke="#0050ff"/>
<path d="M351.22 429.78L351.69 431L352.16 432.22" stroke="#0040ff"/>
<path d="M352.16 432.22L352.63 433.44" stroke="#0030ff"/>
<path d="M352.63 433.44L353.1 434.67L353.57 435.89" stroke="#0020ff"/>
<path d="M353.57 435.89L354.12 437L354.67 438.12L355.22 439.23" stroke="#0010ff"/>
<path d="M355.22 439.23L356.34 439.83L357.46 440.42L358.68 440.44L359.9 440.46L361.12 440.48L362.33 440.5L363.55 440.53L364.66 439.64L365.77 438.75" stroke="#0000ff"/>
<path d="M365.62 438.6L366.34 437.34L367.05 436.08L367.76 434.82L368.48 433.56L369.19 432.3L369.91 431.05L370.62 429.79L371.33 428.53L372.05 427.27L372.76 426.01L373.48 424.75L374.19 423.49" stroke="#0000ff"/>
<path d="M374.19 423.49L374.9 422.23L375.62 420.97L376.33 419.71L377.05 418.45L377.76 417.19L378.47 415.93" stroke="#0010ff"/>
<path d="M393.35 424.68L392.11 423.95L390.87 423.22L389.63 422.49L388.39 421.76L387.15 421.03L385.91 420.3L384.67 419.57L383.43 418.84L382.19 418.12L380.95 417.39L379.71 416.66L378.47 415.93" stroke="#0000da"/>
<path d="M417.72 392.72L417.27 393.66L416.64 394.99L416.27 395.76L415.9 396.53L415.51 397.31L415.13 398.1L414.77 398.81L414.41 399.52L413.74 400.81L413.06 402.09L412.38 403.33L411.72 404.51L411.1 405.6L410.55 406.56L410.04 407.43L409.55 408.23L409.04 409.02L408.49 409.83L407.93 410.64L407.38 411.42L406.78 412.21L406.1 413.04L405.27 413.96L404.25 415" stroke="#0000ff"/>
<path d="M404.25 415L403.67 415.56L403.08 416.13L402.45 416.71L401.82 417.3L401.19 417.88L400.55 418.46L399.93 419.02" stroke="#0000fe"/>
<path d="M399.93 419.02L399.31 419.57L398.67 420.14L398.02 420.71L397.33 421.3L396.64 421.9L395.98 422.46L395.31 423.03L394.16 423.99" stroke="#0000ec"/>
<path d="M394.16 423.99L393.35 424.68" stroke="#0000da"/>
<path d="M438 403.63L436.73 402.95L435.46 402.27L434.19 401.59L432.93 400.9L431.66 400.22L430.39 399.54L429.13 398.86L427.86 398.18L426.59 397.5L425.33 396.81L424.06 396.13" stroke="#0000ec"/>
<path d="M424.06 396.13L422.79 395.45L421.52 394.77L420.26 394.09L418.99 393.41L417.72 392.72L418.16 391.37" stroke="#0000da"/>
<path d="M418.16 391.37L418.6 390.01L419.04 388.66L419.48 387.3L419.91 385.95" stroke="#0000ec"/>
<path d="M371.41 318.31L372.75 318.93L374.09 319.55" stroke="#fcf000"/>
<path d="M374.09 319.55L375.42 320.17L376.76 320.8" stroke="#effe08"/>
<path d="M376.76 320.8L378.1 321.42L379.43 322.04L380.77 322.66" stroke="#e2ff15"/>
<path d="M380.77 322.66L382.11 323.28L383.44 323.91" stroke="#d5ff21"/>
<path d="M383.44 323.91L384.78 324.53L386.12 325.15L387.45 325.77" stroke="#c9ff2e"/>
<path d="M387.45 325.77L388.79 326.39L390.12 327.02L391.46 327.64" stroke="#bcff3b"/>
<path d="M391.46 327.64L392.8 328.26L394.13 328.88" stroke="#afff48"/>
<path d="M394.13 328.88L395.47 329.5L396.81 330.12L398.14 330.75" stroke="#a2ff55"/>
<path d="M398.14 330.75L399.48 331.37L400.82 331.99" stroke="#95ff62"/>
<path d="M400.82 331.99L402.15 332.61L403.49 333.23L404.83 333.86" stroke="#88ff6f"/>
<path d="M404.83 333.86L406.16 334.48L407.5 335.1" stroke="#7bff7b"/>
<path d="M407.5 335.1L408.83 335.72L410.17 336.34L411.51 336.96" stroke="#6fff88"/>
<path d="M411.51 336.96L412.84 337.59L414.18 338.21" stroke="#62ff95"/>
<path d="M414.18 338.21L415.52 338.83L416.85 339.45L416.22 340.75" stroke="#55ffa2"/>
<path d="M416.22 340.75L415.59 342.06" stroke="#48ffaf"/>
<path d="M415.59 342.06L414.95 343.36L414.32 344.66" stroke="#3bffbc"/>
<path d="M414.32 344.66L413.68 345.96L413.05 347.27" stroke="#2effc9"/>
<path d="M413.05 347.27L412.42 348.57L411.78 349.87" stroke="#21ffd5"/>
<path d="M411.78 349.87L411.15 351.18L410.52 352.48" stroke="#15ffe2"/>
<path d="M410.52 352.48L409.88 353.78L409.25 355.08" stroke="#08efef"/>
<path d="M409.25 355.08L408.61 356.39" stroke="#00dffc"/>
<path d="M408.61 356.39L407.98 357.69L407.35 358.99" stroke="#00cfff"/>
<path d="M407.35 358.99L406.71 360.29L406.08 361.6" stroke="#00bfff"/>
<path d="M406.08 361.6L405.45 362.9L404.81 364.2" stroke="#00afff"/>
<path d="M404.81 364.2L404.18 365.5L403.54 366.81" stroke="#009fff"/>
<path d="M403.54 366.81L402.91 368.11L402.28 369.41" stroke="#008fff"/>
<path d="M402.28 369.41L401.64 370.71" stroke="#0080ff"/>
<path d="M401.64 370.71L401.01 372.02L400.37 373.32" stroke="#0070ff"/>
<path d="M400.37 373.32L399.74 374.62L401.04 375.35" stroke="#0060ff"/>
<path d="M401.04 375.35L402.33 376.08L403.63 376.81" stroke="#0050ff"/>
<path d="M403.63 376.81L404.92 377.54L406.22 378.27L407.51 379" stroke="#0040ff"/>
<path d="M407.51 379L408.81 379.72L410.1 380.45" stroke="#0030ff"/>
<path d="M410.1 380.45L411.4 381.18L412.69 381.91" stroke="#0020ff"/>
<path d="M412.69 381.91L413.99 382.64L415.2 383.33L416.42 384.02" stroke="#0010ff"/>
<path d="M416.42 384.02L417.63 384.72L418.85 385.41L420.06 386.1" stroke="#0000ff"/>
<path d="M377.91 415.53L378.53 414.21" stroke="#00cfff"/>
<path d="M378.53 414.21L379.14 412.88L379.76 411.56L380.37 410.24" stroke="#00dffc"/>
<path d="M380.37 410.24L380.98 408.92L381.6 407.59L382.21 406.27" stroke="#08efef"/>
<path d="M382.21 406.27L382.83 404.95L383.44 403.62L384.05 402.3" stroke="#15ffe2"/>
<path d="M384.05 402.3L384.67 400.98L385.28 399.66" stroke="#21ffd5"/>
<path d="M385.28 399.66L385.9 398.33L386.51 397.01L387.12 395.69" stroke="#2effc9"/>
<path d="M387.12 395.69L387.74 394.37L388.35 393.04L388.97 391.72" stroke="#3bffbc"/>
<path d="M388.97 391.72L389.58 390.4L390.19 389.07L390.81 387.75" stroke="#48ffaf"/>
<path d="M390.81 387.75L391.42 386.43L392.04 385.11L392.65 383.78" stroke="#55ffa2"/>
<path d="M392.65 383.78L393.26 382.46L393.88 381.14L394.49 379.82" stroke="#62ff95"/>
<path d="M394.49 379.82L395.1 378.49L395.72 377.17L396.33 375.85" stroke="#6fff88"/>
<path d="M396.33 375.85L396.95 374.52L395.66 373.89L394.38 373.25L393.09 372.61" stroke="#7bff7b"/>
<path d="M393.09 372.61L391.8 371.97L390.52 371.33L389.23 370.69L387.95 370.05" stroke="#88ff6f"/>
<path d="M387.95 370.05L386.66 369.41L385.37 368.77L384.09 368.13L382.8 367.49L381.52 366.85L380.23 366.21" stroke="#95ff62"/>
<path d="M380.23 366.21L378.95 365.57L377.66 364.93L376.37 364.29L375.46 364.66" stroke="#a2ff55"/>
<path d="M375.46 364.66L374.55 365.03L373.64 365.97L372.73 366.9L371.87 366.91L371.01 366.93L369.75 366.22L368.49 365.51" stroke="#afff48"/>
<path d="M368.49 365.51L367.23 364.8L365.97 364.09L364.71 363.38L363.45 362.67" stroke="#bcff3b"/>
<path d="M363.45 362.67L362.2 361.96L360.94 361.25L359.68 360.55L358.42 359.84" stroke="#c9ff2e"/>
<path d="M358.42 359.84L357.16 359.13L355.9 358.42L354.64 357.71" stroke="#d5ff21"/>
<path d="M354.64 357.71L353.38 357L352.92 356.19" stroke="#e2ff15"/>
<path d="M352.92 356.19L352.46 355.38L352.71 354.66L352.96 353.94L353.62 352.62L354.28 351.3L354.94 349.98L355.61 348.66L356.27 347.34L356.93 346.02L357.59 344.7L358.26 343.38L358.92 342.06L359.58 340.74L360.24 339.42L360.91 338.1" stroke="#effe08"/>
<path d="M360.91 338.1L361.57 336.78L362.23 335.46L362.89 334.14L363.56 332.82L364.22 331.5L364.88 330.18L365.54 328.86L366.21 327.54L366.87 326.22L367.53 324.9L368.19 323.58L368.86 322.26L369.52 320.94L370.18 319.62L370.84 318.3L371.51 316.98" stroke="#fcf000"/>
<path d="M419.66 385.7L420.35 384.39" stroke="#0020ff"/>
<path d="M420.35 384.39L421.04 383.08L421.74 381.77" stroke="#0030ff"/>
<path d="M421.74 381.77L422.43 380.46" stroke="#0040ff"/>
<path d="M422.43 380.46L423.12 379.15L423.82 377.84" stroke="#0050ff"/>
<path d="M423.82 377.84L424.51 376.53" stroke="#0060ff"/>
<path d="M424.51 376.53L425.2 375.22L425.89 373.91" stroke="#0070ff"/>
<path d="M425.89 373.91L426.59 372.6L427.28 371.29" stroke="#0080ff"/>
<path d="M427.28 371.29L427.97 369.98" stroke="#008fff"/>
<path d="M427.97 369.98L428.66 368.67L429.36 367.36" stroke="#009fff"/>
<path d="M429.36 367.36L430.05 366.05" stroke="#00afff"/>
<path d="M430.05 366.05L430.74 364.74L431.44 363.43" stroke="#00bfff"/>
<path d="M431.44 363.43L432.13 362.12" stroke="#00cfff"/>
<path d="M432.13 362.12L432.82 360.82L433.51 359.51" stroke="#00dffc"/>
<path d="M433.51 359.51L434.21 358.2" stroke="#08efef"/>
<path d="M434.21 358.2L434.9 356.89L435.59 355.58" stroke="#15ffe2"/>
<path d="M435.59 355.58L436.29 354.27" stroke="#21ffd5"/>
<path d="M436.29 354.27L436.98 352.96L437.67 351.65" stroke="#2effc9"/>
<path d="M437.67 351.65L438.36 350.34" stroke="#3bffbc"/>
<path d="M438.36 350.34L439.06 349.03L439.75 347.72" stroke="#48ffaf"/>
<path d="M439.75 347.72L440.44 346.41" stroke="#55ffa2"/>
<path d="M440.44 346.41L441.14 345.1L441.83 343.79" stroke="#62ff95"/>
<path d="M441.83 343.79L442.52 342.48" stroke="#6fff88"/>
<path d="M442.52 342.48L443.21 341.17L443.91 339.86" stroke="#7bff7b"/>
<path d="M443.91 339.86L444.6 338.55" stroke="#88ff6f"/>
<path d="M444.6 338.55L445.29 337.24L445.99 335.93" stroke="#95ff62"/>
<path d="M445.99 335.93L446.68 334.62L447.37 333.31" stroke="#a2ff55"/>
<path d="M447.37 333.31L448.06 332" stroke="#afff48"/>
<path d="M448.06 332L448.76 330.69L450.07 331.25" stroke="#bcff3b"/>
<path d="M450.07 331.25L451.38 331.8L452.69 332.36" stroke="#c9ff2e"/>
<path d="M452.69 332.36L454.01 332.91L455.32 333.46L456.63 334.02" stroke="#d5ff21"/>
<path d="M456.63 334.02L457.95 334.57L459.26 335.12" stroke="#e2ff15"/>
<path d="M459.26 335.12L460.57 335.68L461.88 336.23L463.2 336.79" stroke="#effe08"/>
<path d="M463.2 336.79L464.51 337.34L465.82 337.89" stroke="#fcf000"/>
<path d="M465.82 337.89L467.13 338.45L468.45 339L469.76 339.56" stroke="#ffe100"/>
<path d="M469.76 339.56L471.07 340.11L472.38 340.66" stroke="#ffd200"/>
<path d="M472.38 340.66L473.7 341.22L474.84 341.43" stroke="#ffc300"/>
<path d="M474.84 341.43L475.98 341.64L477.13 341.85" stroke="#ffb500"/>
<path d="M477.13 341.85L478.27 342.06" stroke="#ffa600"/>
<path d="M478.27 342.06L479.69 341.87" stroke="#ff9700"/>
<path d="M479.69 341.87L481.11 341.68" stroke="#ff8800"/>
<path d="M481.11 341.68L482.53 341.48L483.6 342.13L484.67 342.78L485.05 343.93" stroke="#ff6b00"/>
<path d="M485.05 343.93L485.43 345.08" stroke="#ff7a00"/>
<path d="M485.43 345.08L485.81 346.23" stroke="#ff8800"/>
<path d="M485.81 346.23L486.06 347.7L486.31 349.17L486.56 350.64" stroke="#ff9700"/>
<path d="M486.56 350.64L486.81 352.11L487.05 353.58L487.3 355.05" stroke="#ffa600"/>
<path d="M487.3 355.05L487.55 356.52L487.8 357.99L488.05 359.46" stroke="#ffb500"/>
<path d="M488.05 359.46L488.3 360.93L488.55 362.4" stroke="#ffc300"/>
<path d="M488.55 362.4L488.79 363.86L489.04 365.33L489.29 366.8" stroke="#ffd200"/>
<path d="M489.29 366.8L489.23 368.03" stroke="#ffe100"/>
<path d="M489.23 368.03L489.17 369.26" stroke="#fcf000"/>
<path d="M489.17 369.26L489.11 370.48L488.46 371.41" stroke="#effe08"/>
<path d="M488.46 371.41L487.8 372.34L486.58 372.36L485.37 372.38L484.15 372.4" stroke="#e2ff15"/>
<path d="M484.15 372.4L482.78 371.8L481.41 371.2L480.03 370.59" stroke="#d5ff21"/>
<path d="M480.03 370.59L478.66 369.99L477.29 369.39L475.92 368.79" stroke="#c9ff2e"/>
<path d="M475.92 368.79L474.55 368.18L473.18 367.58" stroke="#bcff3b"/>
<path d="M473.18 367.58L471.8 366.98L470.43 366.38L469.06 365.77" stroke="#afff48"/>
<path d="M469.06 365.77L467.69 365.17L466.32 364.57L464.95 363.96" stroke="#a2ff55"/>
<path d="M464.95 363.96L463.58 363.36L462.2 362.76" stroke="#95ff62"/>
<path d="M462.2 362.76L460.83 362.16L460.11 363.45L459.39 364.73" stroke="#88ff6f"/>
<path d="M459.39 364.73L458.67 366.02L457.95 367.31" stroke="#7bff7b"/>
<path d="M457.95 367.31L457.22 368.6L456.5 369.89" stroke="#6fff88"/>
<path d="M456.5 369.89L455.78 371.17L455.06 372.46L454.34 373.75" stroke="#62ff95"/>
<path d="M454.34 373.75L453.62 375.04L452.9 376.33" stroke="#55ffa2"/>
<path d="M452.9 376.33L452.17 377.62L451.45 378.9" stroke="#48ffaf"/>
<path d="M451.45 378.9L450.73 380.19L450.01 381.48" stroke="#3bffbc"/>
<path d="M450.01 381.48L449.29 382.77L448.57 384.06L447.84 385.34" stroke="#2effc9"/>
<path d="M447.84 385.34L447.12 386.63L446.4 387.92" stroke="#21ffd5"/>
<path d="M446.4 387.92L445.68 389.21L444.96 390.5" stroke="#15ffe2"/>
<path d="M444.96 390.5L444.24 391.79L443.51 393.07" stroke="#08efef"/>
<path d="M443.51 393.07L442.79 394.36L442.07 395.65L441.35 396.94" stroke="#00dffc"/>
<path d="M441.35 396.94L440.63 398.23L439.91 399.52" stroke="#00cfff"/>
<path d="M439.91 399.52L439.18 400.8L438.46 402.09" stroke="#00bfff"/>
<path d="M438.46 402.09L437.74 403.38" stroke="#00afff"/>
<path d="M393.35 424.68L393.73 425.02L394.24 425.44" stroke="#0000b6"/>
<path d="M394.24 425.44L394.86 426.01L395.56 426.81L396.32 427.9L397.1 429.16L397.52 429.86L397.94 430.56L398.4 431.41L398.86 432.26L399.39 433.34L399.91 434.42L400.32 435.35L400.74 436.28L401.15 437.21" stroke="#0000c8"/>
<path d="M401.15 437.21L401.69 438.54L402.22 439.87L402.76 441.2L403.25 442.47L403.74 443.74" stroke="#0000da"/>
<path d="M403.74 443.74L404.23 445.01L404.72 446.28L405.22 447.61L405.72 448.94L406.22 450.26L406.73 451.59L407.17 452.77" stroke="#0000ec"/>
<path d="M407.17 452.77L407.61 453.94L408.05 455.12L408.49 456.3L408.9 457.38L409.31 458.46" stroke="#0000fe"/>
<path d="M409.31 458.46L409.72 459.54L410.92 460.38" stroke="#0000ff"/>
<path d="M410.92 460.38L412.12 461.22L413.33 462.06" stroke="#0010ff"/>
<path d="M413.33 462.06L414.53 462.9" stroke="#0020ff"/>
<path d="M414.53 462.9L415.73 463.74" stroke="#0030ff"/>
<path d="M415.73 463.74L416.94 464.58L418.14 465.42" stroke="#0040ff"/>
<path d="M418.14 465.42L419.35 466.26" stroke="#0050ff"/>
<path d="M419.35 466.26L420.55 467.1" stroke="#0060ff"/>
<path d="M420.55 467.1L421.75 467.94L422.96 468.78" stroke="#0070ff"/>
<path d="M422.96 468.78L424.16 469.62" stroke="#0080ff"/>
<path d="M424.16 469.62L425.36 470.46L426.57 471.3" stroke="#008fff"/>
<path d="M426.57 471.3L427.77 472.14" stroke="#009fff"/>
<path d="M427.77 472.14L428.98 472.98" stroke="#00afff"/>
<path d="M428.98 472.98L430.18 473.82L431.38 474.66" stroke="#00bfff"/>
<path d="M431.38 474.66L432.59 475.5" stroke="#00cfff"/>
<path d="M432.59 475.5L433.79 476.34" stroke="#00dffc"/>
<path d="M433.79 476.34L435 477.18L436.2 478.02" stroke="#08efef"/>
<path d="M436.2 478.02L437.4 478.86L438.29 477.66" stroke="#15ffe2"/>
<path d="M438.29 477.66L439.18 476.47L440.06 475.27L440.95 474.08" stroke="#21ffd5"/>
<path d="M440.95 474.08L441.83 472.88L442.72 471.69L443.61 470.5L444.49 469.3" stroke="#2effc9"/>
<path d="M444.49 469.3L445.38 468.11L446.27 466.91L447.15 465.72L448.04 464.52" stroke="#3bffbc"/>
<path d="M448.04 464.52L448.92 463.33L449.81 462.14L450.7 460.94" stroke="#48ffaf"/>
<path d="M450.7 460.94L451.58 459.75L452.47 458.55L453.36 457.36L454.24 456.17" stroke="#55ffa2"/>
<path d="M454.24 456.17L455.13 454.97L456.02 453.78L456.9 452.58L457.79 451.39" stroke="#62ff95"/>
<path d="M457.79 451.39L458.67 450.19L459.56 449L460.45 447.81" stroke="#6fff88"/>
<path d="M460.45 447.81L461.33 446.61L462.22 445.42L461.53 444.09" stroke="#7bff7b"/>
<path d="M461.53 444.09L460.83 442.77L460.14 441.45" stroke="#6fff88"/>
<path d="M460.14 441.45L459.45 440.13" stroke="#62ff95"/>
<path d="M459.45 440.13L458.75 438.8L458.06 437.48" stroke="#55ffa2"/>
<path d="M458.06 437.48L457.36 436.16L456.67 434.83" stroke="#48ffaf"/>
<path d="M456.67 434.83L455.98 433.51L455.28 432.19" stroke="#3bffbc"/>
<path d="M455.28 432.19L454.59 430.87L453.9 429.54" stroke="#2effc9"/>
<path d="M453.9 429.54L453.2 428.22" stroke="#21ffd5"/>
<path d="M453.2 428.22L452.51 426.9L451.81 425.58" stroke="#15ffe2"/>
<path d="M451.81 425.58L451.12 424.25L450.35 423.04" stroke="#08efef"/>
<path d="M450.35 423.04L449.58 421.83" stroke="#00dffc"/>
<path d="M449.58 421.83L448.81 420.61L448.03 419.4" stroke="#00cfff"/>
<path d="M448.03 419.4L447.26 418.19" stroke="#00bfff"/>
<path d="M447.26 418.19L446.49 416.97L445.72 415.76" stroke="#00afff"/>
<path d="M445.72 415.76L444.94 414.55" stroke="#009fff"/>
<path d="M444.94 414.55L444.17 413.34L443.4 412.12" stroke="#008fff"/>
<path d="M443.4 412.12L442.63 410.91" stroke="#0080ff"/>
<path d="M442.63 410.91L441.86 409.7L441.08 408.48" stroke="#0070ff"/>
<path d="M441.08 408.48L440.31 407.27" stroke="#0060ff"/>
<path d="M440.31 407.27L439.54 406.06L438.77 404.84" stroke="#0050ff"/>
<path d="M438.77 404.84L438 403.63" stroke="#0040ff"/>
<path d="M372.22 317.53L370.68 316.79L368.47 315.74L365.94 314.52L363.47 313.26L361.42 312.09L359.81 310.94L358.37 309.73L357.11 308.55L356.02 307.5L355.1 306.68L354.37 306.12L353.84 305.76L353.46 305.55L353.18 305.41L352.96 305.28L351.34 306.53L350.15 308.13L348.45 310.33L346.5 312.98L344.53 315.92L342.79 319.03L341.24 322.38L339.73 326.09L338.3 330L337 333.96L335.9 337.83L334.99 341.6L334.23 345.37L333.63 349.14L333.18 352.91L332.87 356.67L332.7 360.42L332.69 364.16L332.81 367.9L333.08 371.63L333.5 375.35L333.92 378.67L334.35 381.59L334.99 384.7L336.03 388.57L337.67 393.76L340.36 401.34L343.95 410.93L347.8 420.93L351.22 429.78L353.57 435.89L355.22 439.23L357.46 440.42L363.55 440.53L365.77 438.75M365.77 438.75L378.63 416.08M393.51 424.83L378.63 416.08M417.88 392.88L417.43 393.81L416.79 395.14L416.05 396.68L415.28 398.25L414.57 399.67L413.89 400.96L413.21 402.24L412.53 403.48L411.87 404.66L411.26 405.75L410.7 406.71L410.19 407.58L409.7 408.38L409.19 409.17L408.64 409.98L408.08 410.79L407.53 411.57L406.93 412.36L406.25 413.19L405.42 414.11L404.4 415.15L403.23 416.28L401.98 417.45L400.7 418.61L399.46 419.73L398.18 420.86L396.8 422.05L395.46 423.18L394.32 424.14L393.51 424.83M438.15 403.78L417.88 392.88L420.07 386.1M372.22 317.53L416.93 339.38L399.89 374.48L414.01 382.61L420.07 386.1M378.63 416.08L396.95 374.52L377.09 364.84L375.26 365.58L373.45 367.45L371.72 367.48L354.1 357.55L353.17 355.93L353.67 354.49L372.22 317.53M420.07 386.1L449.17 331.1L474.11 341.62L478.68 342.47L482.94 341.89L485.08 343.18L486.22 346.63L489.7 367.21L489.52 370.88L488.21 372.74L484.56 372.8L461.24 362.56L438.15 403.78M393.51 424.83L393.88 425.17L394.39 425.59L395.01 426.16L395.71 426.96L396.47 428.05L397.26 429.31L398.09 430.71L399.01 432.41L400.07 434.57L401.3 437.36L402.91 441.35L404.87 446.43L406.88 451.74L408.64 456.45L409.87 459.69L437.56 479.01L462.37 445.57L451.27 424.4L438.15 403.78" stroke="#000" stroke-opacity="0.52" stroke-width="1.1" stroke-dasharray="3.75 1.62" stroke-linecap="butt"/>
</g>
<rect x="432.5" y="299.4" width="61.2" height="12.4" rx="1.7" fill="#eaeaf2" fill-opacity="0.8" stroke="#cccccc" stroke-width="0.7"/>
<path d="M435.4 305h14.85" stroke="#000" stroke-opacity="0.62" stroke-width="1.0" stroke-dasharray="3.75 1.62" fill="none"/>
<text x="456.2" y="307.5" font-size="7.45">reference</text>
<rect x="508.85" y="295.6" width="9.15" height="192.55" fill="url(#jetgrad)"/>
<path d="M518.7 295.45h3.8" stroke="#111111" stroke-width="0.85"/>
<text x="524.6" y="298.25" font-size="7.3">8.411</text>
<path d="M518.7 391.9h3.8" stroke="#111111" stroke-width="0.85"/>
<text x="524.6" y="394.7" font-size="7.3">4.205</text>
<path d="M518.7 488.35h3.8" stroke="#111111" stroke-width="0.85"/>
<text x="524.6" y="491.15" font-size="7.3">0.000</text>
<text x="414.7" y="537.4" text-anchor="middle" font-family="'Liberation Serif','DejaVu Serif',serif" font-size="13.8" fill="#111">(<tspan font-weight="bold">d</tspan>)</text>
</g>
</svg>
</body></html>
